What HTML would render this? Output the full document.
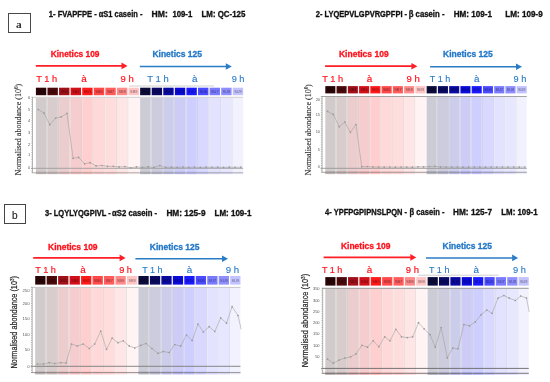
<!DOCTYPE html>
<html><head><meta charset="utf-8"><title>Kinetics figure</title>
<style>html,body{margin:0;padding:0;background:#fff;} svg{display:block;}</style></head>
<body><svg width="550" height="382" viewBox="0 0 550 382">
<rect width="550" height="382" fill="#fff"/>
<text x="48.80" y="17.00" font-family="'Liberation Sans', Arial, sans-serif" font-size="8.2" font-weight="bold" fill="#111" text-anchor="start" textLength="48.00" lengthAdjust="spacingAndGlyphs" stroke="#111" stroke-width="0.3">1- FVAPFPE -</text>
<text x="98.70" y="17.00" font-family="'Liberation Sans', Arial, sans-serif" font-size="8.2" font-weight="bold" fill="#111" text-anchor="start" textLength="43.70" lengthAdjust="spacingAndGlyphs" stroke="#111" stroke-width="0.3">αS1 casein -</text>
<text x="151.60" y="17.00" font-family="'Liberation Sans', Arial, sans-serif" font-size="8.2" font-weight="bold" fill="#111" text-anchor="start" textLength="16.20" lengthAdjust="spacingAndGlyphs" stroke="#111" stroke-width="0.3">HM:</text>
<text x="172.40" y="17.00" font-family="'Liberation Sans', Arial, sans-serif" font-size="8.2" font-weight="bold" fill="#111" text-anchor="start" textLength="19.90" lengthAdjust="spacingAndGlyphs" stroke="#111" stroke-width="0.3">109-1</text>
<text x="201.50" y="17.00" font-family="'Liberation Sans', Arial, sans-serif" font-size="8.2" font-weight="bold" fill="#111" text-anchor="start" textLength="43.80" lengthAdjust="spacingAndGlyphs" stroke="#111" stroke-width="0.3">LM: QC-125</text>
<text x="50.70" y="57.10" font-family="'Liberation Sans', Arial, sans-serif" font-size="8.6" font-weight="bold" fill="#ff121c" text-anchor="start" textLength="48.80" lengthAdjust="spacingAndGlyphs" stroke="#ff121c" stroke-width="0.3">Kinetics 109</text>
<text x="152.40" y="57.30" font-family="'Liberation Sans', Arial, sans-serif" font-size="8.6" font-weight="bold" fill="#2277c8" text-anchor="start" textLength="49.60" lengthAdjust="spacingAndGlyphs" stroke="#2277c8" stroke-width="0.3">Kinetics 125</text>
<line x1="35.80" y1="65.90" x2="122.00" y2="65.90" stroke="#ff1e26" stroke-width="1.8"/><polygon points="121.50,62.60 127.50,65.90 121.50,69.20" fill="#ff1e26"/>
<line x1="139.80" y1="66.50" x2="226.30" y2="66.50" stroke="#2a7cc6" stroke-width="1.5"/><polygon points="225.80,63.20 231.80,66.50 225.80,69.80" fill="#2a7cc6"/>
<text x="36.25" y="82.30" font-family="'Liberation Sans', Arial, sans-serif" font-size="9.9" font-weight="normal" fill="#ff121c" text-anchor="start" textLength="20.85" lengthAdjust="spacingAndGlyphs" stroke="#ff121c" stroke-width="0.2">T 1 h</text>
<text x="84.00" y="82.30" font-family="'Liberation Sans', Arial, sans-serif" font-size="9.9" font-weight="normal" fill="#ff121c" text-anchor="middle" stroke="#ff121c" stroke-width="0.2">à</text>
<text x="120.50" y="82.30" font-family="'Liberation Sans', Arial, sans-serif" font-size="9.9" font-weight="normal" fill="#ff121c" text-anchor="start" textLength="13.20" lengthAdjust="spacingAndGlyphs" stroke="#ff121c" stroke-width="0.2">9 h</text>
<text x="147.30" y="82.30" font-family="'Liberation Sans', Arial, sans-serif" font-size="9.9" font-weight="normal" fill="#2277c8" text-anchor="start" textLength="21.40" lengthAdjust="spacingAndGlyphs" stroke="#2277c8" stroke-width="0.1">T 1 h</text>
<text x="194.80" y="82.30" font-family="'Liberation Sans', Arial, sans-serif" font-size="9.9" font-weight="normal" fill="#2277c8" text-anchor="middle" stroke="#2277c8" stroke-width="0.1">à</text>
<text x="231.70" y="82.30" font-family="'Liberation Sans', Arial, sans-serif" font-size="9.9" font-weight="normal" fill="#2277c8" text-anchor="start" textLength="12.80" lengthAdjust="spacingAndGlyphs" stroke="#2277c8" stroke-width="0.1">9 h</text>
<line x1="129" y1="86" x2="214" y2="86" stroke="#c4c4c4" stroke-width="0.8"/>
<rect x="35.90" y="97.80" width="10.38" height="76.30" fill="#d2cbcb"/>
<rect x="35.90" y="171.50" width="10.38" height="2.60" fill="#bfb4b5"/>
<rect x="35.90" y="87.70" width="10.38" height="7.50" fill="#2a0508"/>
<text x="41.09" y="92.85" font-family="'Liberation Sans', Arial, sans-serif" font-size="3.9" font-weight="normal" fill="#000" text-anchor="middle" fill-opacity="0.5">SB1</text>
<rect x="46.28" y="97.80" width="1.2" height="76.30" fill="#d4cfcf"/>
<rect x="47.48" y="97.80" width="10.38" height="76.30" fill="#d9cccc"/>
<rect x="47.48" y="171.50" width="10.38" height="2.60" fill="#c9b6b6"/>
<rect x="47.48" y="87.70" width="10.38" height="7.50" fill="#4a0a0c"/>
<text x="52.67" y="92.85" font-family="'Liberation Sans', Arial, sans-serif" font-size="3.9" font-weight="normal" fill="#000" text-anchor="middle" fill-opacity="0.5">SB2</text>
<rect x="57.86" y="97.80" width="1.2" height="76.30" fill="#d8d0d0"/>
<rect x="59.06" y="97.80" width="10.38" height="76.30" fill="#ebcdce"/>
<rect x="59.06" y="171.50" width="10.38" height="2.60" fill="#e2b7ba"/>
<rect x="59.06" y="87.70" width="10.38" height="7.50" fill="#a01018"/>
<text x="64.25" y="92.85" font-family="'Liberation Sans', Arial, sans-serif" font-size="3.9" font-weight="normal" fill="#000" text-anchor="middle" fill-opacity="0.5">SB3</text>
<rect x="69.44" y="97.80" width="1.2" height="76.30" fill="#e2d0d1"/>
<rect x="70.64" y="97.80" width="10.38" height="76.30" fill="#f6cdcf"/>
<rect x="70.64" y="171.50" width="10.38" height="2.60" fill="#f2b7ba"/>
<rect x="70.64" y="87.70" width="10.38" height="7.50" fill="#d2101a"/>
<text x="75.83" y="92.85" font-family="'Liberation Sans', Arial, sans-serif" font-size="3.9" font-weight="normal" fill="#000" text-anchor="middle" fill-opacity="0.5">SB4</text>
<rect x="81.02" y="97.80" width="1.2" height="76.30" fill="#e8d0d1"/>
<rect x="82.22" y="97.80" width="10.38" height="76.30" fill="#ffcfcf"/>
<rect x="82.22" y="171.50" width="10.38" height="2.60" fill="#ffbaba"/>
<rect x="82.22" y="87.70" width="10.38" height="7.50" fill="#ff1a1a"/>
<text x="87.41" y="92.85" font-family="'Liberation Sans', Arial, sans-serif" font-size="3.9" font-weight="normal" fill="#000" text-anchor="middle" fill-opacity="0.5">SB5</text>
<rect x="92.60" y="97.80" width="1.2" height="76.30" fill="#edd1d1"/>
<rect x="93.80" y="97.80" width="10.38" height="76.30" fill="#ffd9d9"/>
<rect x="93.80" y="171.50" width="10.38" height="2.60" fill="#ffc8c8"/>
<rect x="93.80" y="87.70" width="10.38" height="7.50" fill="#ff4848"/>
<text x="98.99" y="92.85" font-family="'Liberation Sans', Arial, sans-serif" font-size="3.9" font-weight="normal" fill="#000" text-anchor="middle" fill-opacity="0.5">SB6</text>
<rect x="104.18" y="97.80" width="1.2" height="76.30" fill="#edd7d7"/>
<rect x="105.38" y="97.80" width="10.38" height="76.30" fill="#ffdddd"/>
<rect x="105.38" y="171.50" width="10.38" height="2.60" fill="#ffcece"/>
<rect x="105.38" y="87.70" width="10.38" height="7.50" fill="#ff5c5c"/>
<text x="110.57" y="92.85" font-family="'Liberation Sans', Arial, sans-serif" font-size="3.9" font-weight="normal" fill="#000" text-anchor="middle" fill-opacity="0.5">SB7</text>
<rect x="115.76" y="97.80" width="1.2" height="76.30" fill="#edd9d9"/>
<rect x="116.96" y="97.80" width="10.38" height="76.30" fill="#ffe6e6"/>
<rect x="116.96" y="171.50" width="10.38" height="2.60" fill="#ffdcdc"/>
<rect x="116.96" y="87.70" width="10.38" height="7.50" fill="#ff8a8a"/>
<text x="122.15" y="92.85" font-family="'Liberation Sans', Arial, sans-serif" font-size="3.9" font-weight="normal" fill="#000" text-anchor="middle" fill-opacity="0.5">SB8</text>
<rect x="127.34" y="97.80" width="1.2" height="76.30" fill="#eddede"/>
<rect x="128.54" y="97.80" width="10.38" height="76.30" fill="#fff3f3"/>
<rect x="128.54" y="171.50" width="10.38" height="2.60" fill="#ffeded"/>
<rect x="128.54" y="87.70" width="10.38" height="7.50" fill="#ffc4c4"/>
<text x="133.73" y="92.85" font-family="'Liberation Sans', Arial, sans-serif" font-size="3.9" font-weight="normal" fill="#000" text-anchor="middle" fill-opacity="0.5">SB9</text>
<rect x="138.92" y="97.80" width="1.2" height="76.30" fill="#fff3f3"/>
<rect x="140.12" y="97.80" width="10.38" height="76.30" fill="#ccccd6"/>
<rect x="140.12" y="171.50" width="10.38" height="2.60" fill="#b6b6c4"/>
<rect x="140.12" y="87.70" width="10.38" height="7.50" fill="#0c0c3a"/>
<text x="145.31" y="92.85" font-family="'Liberation Sans', Arial, sans-serif" font-size="3.9" font-weight="normal" fill="#000" text-anchor="middle" fill-opacity="0.5">SU1</text>
<rect x="150.50" y="97.80" width="1.2" height="76.30" fill="#d0d0d5"/>
<rect x="151.70" y="97.80" width="10.38" height="76.30" fill="#ccccde"/>
<rect x="151.70" y="171.50" width="10.38" height="2.60" fill="#b6b6d0"/>
<rect x="151.70" y="87.70" width="10.38" height="7.50" fill="#0a0a62"/>
<text x="156.89" y="92.85" font-family="'Liberation Sans', Arial, sans-serif" font-size="3.9" font-weight="normal" fill="#000" text-anchor="middle" fill-opacity="0.5">SU2</text>
<rect x="162.08" y="97.80" width="1.2" height="76.30" fill="#d0d0da"/>
<rect x="163.28" y="97.80" width="10.38" height="76.30" fill="#cccceb"/>
<rect x="163.28" y="171.50" width="10.38" height="2.60" fill="#b6b6e2"/>
<rect x="163.28" y="87.70" width="10.38" height="7.50" fill="#0a0aa0"/>
<text x="168.47" y="92.85" font-family="'Liberation Sans', Arial, sans-serif" font-size="3.9" font-weight="normal" fill="#000" text-anchor="middle" fill-opacity="0.5">SU3</text>
<rect x="173.66" y="97.80" width="1.2" height="76.30" fill="#d0d0e1"/>
<rect x="174.86" y="97.80" width="10.38" height="76.30" fill="#ccccf7"/>
<rect x="174.86" y="171.50" width="10.38" height="2.60" fill="#b6b6f3"/>
<rect x="174.86" y="87.70" width="10.38" height="7.50" fill="#0a0ad8"/>
<text x="180.05" y="92.85" font-family="'Liberation Sans', Arial, sans-serif" font-size="3.9" font-weight="normal" fill="#000" text-anchor="middle" fill-opacity="0.5">SU4</text>
<rect x="185.24" y="97.80" width="1.2" height="76.30" fill="#d0d0e7"/>
<rect x="186.44" y="97.80" width="10.38" height="76.30" fill="#cfcfff"/>
<rect x="186.44" y="171.50" width="10.38" height="2.60" fill="#babaff"/>
<rect x="186.44" y="87.70" width="10.38" height="7.50" fill="#1a1aff"/>
<text x="191.63" y="92.85" font-family="'Liberation Sans', Arial, sans-serif" font-size="3.9" font-weight="normal" fill="#000" text-anchor="middle" fill-opacity="0.5">SU5</text>
<rect x="196.82" y="97.80" width="1.2" height="76.30" fill="#d2d1ec"/>
<rect x="198.02" y="97.80" width="10.38" height="76.30" fill="#d9d9ff"/>
<rect x="198.02" y="171.50" width="10.38" height="2.60" fill="#c9c9ff"/>
<rect x="198.02" y="87.70" width="10.38" height="7.50" fill="#4a4aff"/>
<text x="203.21" y="92.85" font-family="'Liberation Sans', Arial, sans-serif" font-size="3.9" font-weight="normal" fill="#000" text-anchor="middle" fill-opacity="0.5">SU6</text>
<rect x="208.40" y="97.80" width="1.2" height="76.30" fill="#d8d7ec"/>
<rect x="209.60" y="97.80" width="10.38" height="76.30" fill="#e3e3ff"/>
<rect x="209.60" y="171.50" width="10.38" height="2.60" fill="#d7d7ff"/>
<rect x="209.60" y="87.70" width="10.38" height="7.50" fill="#7a7aff"/>
<text x="214.79" y="92.85" font-family="'Liberation Sans', Arial, sans-serif" font-size="3.9" font-weight="normal" fill="#000" text-anchor="middle" fill-opacity="0.5">SU7</text>
<rect x="219.98" y="97.80" width="1.2" height="76.30" fill="#dddcec"/>
<rect x="221.18" y="97.80" width="10.38" height="76.30" fill="#e7e7ff"/>
<rect x="221.18" y="171.50" width="10.38" height="2.60" fill="#ddddff"/>
<rect x="221.18" y="87.70" width="10.38" height="7.50" fill="#8e8eff"/>
<text x="226.37" y="92.85" font-family="'Liberation Sans', Arial, sans-serif" font-size="3.9" font-weight="normal" fill="#000" text-anchor="middle" fill-opacity="0.5">SU8</text>
<rect x="231.56" y="97.80" width="1.2" height="76.30" fill="#dfdeec"/>
<rect x="232.76" y="97.80" width="10.38" height="76.30" fill="#f2f2ff"/>
<rect x="232.76" y="171.50" width="10.38" height="2.60" fill="#ededff"/>
<rect x="232.76" y="87.70" width="10.38" height="7.50" fill="#c2c2ff"/>
<text x="237.95" y="92.85" font-family="'Liberation Sans', Arial, sans-serif" font-size="3.9" font-weight="normal" fill="#000" text-anchor="middle" fill-opacity="0.5">SU9</text>
<line x1="32.00" y1="97.30" x2="243.14" y2="97.30" stroke="#c8c8c8" stroke-width="0.9"/>
<line x1="31.00" y1="168.30" x2="243.14" y2="168.30" stroke="#9c9c9c" stroke-width="0.9"/>
<line x1="31.50" y1="172.80" x2="243.14" y2="172.80" stroke="#9a9a9a" stroke-width="0.8"/>
<line x1="32.50" y1="97.30" x2="32.50" y2="172.80" stroke="#9a9a9a" stroke-width="0.7"/>
<line x1="31.30" y1="97.30" x2="32.50" y2="97.30" stroke="#8a8a8a" stroke-width="0.6"/>
<line x1="31.30" y1="99.60" x2="32.50" y2="99.60" stroke="#8a8a8a" stroke-width="0.6"/>
<line x1="31.30" y1="101.90" x2="32.50" y2="101.90" stroke="#8a8a8a" stroke-width="0.6"/>
<line x1="31.30" y1="104.20" x2="32.50" y2="104.20" stroke="#8a8a8a" stroke-width="0.6"/>
<line x1="31.30" y1="106.50" x2="32.50" y2="106.50" stroke="#8a8a8a" stroke-width="0.6"/>
<line x1="31.30" y1="108.80" x2="32.50" y2="108.80" stroke="#8a8a8a" stroke-width="0.6"/>
<line x1="31.30" y1="111.10" x2="32.50" y2="111.10" stroke="#8a8a8a" stroke-width="0.6"/>
<line x1="31.30" y1="113.40" x2="32.50" y2="113.40" stroke="#8a8a8a" stroke-width="0.6"/>
<line x1="31.30" y1="115.70" x2="32.50" y2="115.70" stroke="#8a8a8a" stroke-width="0.6"/>
<line x1="31.30" y1="118.00" x2="32.50" y2="118.00" stroke="#8a8a8a" stroke-width="0.6"/>
<line x1="31.30" y1="120.30" x2="32.50" y2="120.30" stroke="#8a8a8a" stroke-width="0.6"/>
<line x1="31.30" y1="122.60" x2="32.50" y2="122.60" stroke="#8a8a8a" stroke-width="0.6"/>
<line x1="31.30" y1="124.90" x2="32.50" y2="124.90" stroke="#8a8a8a" stroke-width="0.6"/>
<line x1="31.30" y1="127.20" x2="32.50" y2="127.20" stroke="#8a8a8a" stroke-width="0.6"/>
<line x1="31.30" y1="129.50" x2="32.50" y2="129.50" stroke="#8a8a8a" stroke-width="0.6"/>
<line x1="31.30" y1="131.80" x2="32.50" y2="131.80" stroke="#8a8a8a" stroke-width="0.6"/>
<line x1="31.30" y1="134.10" x2="32.50" y2="134.10" stroke="#8a8a8a" stroke-width="0.6"/>
<line x1="31.30" y1="136.40" x2="32.50" y2="136.40" stroke="#8a8a8a" stroke-width="0.6"/>
<line x1="31.30" y1="138.70" x2="32.50" y2="138.70" stroke="#8a8a8a" stroke-width="0.6"/>
<line x1="31.30" y1="141.00" x2="32.50" y2="141.00" stroke="#8a8a8a" stroke-width="0.6"/>
<line x1="31.30" y1="143.30" x2="32.50" y2="143.30" stroke="#8a8a8a" stroke-width="0.6"/>
<line x1="31.30" y1="145.60" x2="32.50" y2="145.60" stroke="#8a8a8a" stroke-width="0.6"/>
<line x1="31.30" y1="147.90" x2="32.50" y2="147.90" stroke="#8a8a8a" stroke-width="0.6"/>
<line x1="31.30" y1="150.20" x2="32.50" y2="150.20" stroke="#8a8a8a" stroke-width="0.6"/>
<line x1="31.30" y1="152.50" x2="32.50" y2="152.50" stroke="#8a8a8a" stroke-width="0.6"/>
<line x1="31.30" y1="154.80" x2="32.50" y2="154.80" stroke="#8a8a8a" stroke-width="0.6"/>
<line x1="31.30" y1="157.10" x2="32.50" y2="157.10" stroke="#8a8a8a" stroke-width="0.6"/>
<line x1="31.30" y1="159.40" x2="32.50" y2="159.40" stroke="#8a8a8a" stroke-width="0.6"/>
<line x1="31.30" y1="161.70" x2="32.50" y2="161.70" stroke="#8a8a8a" stroke-width="0.6"/>
<line x1="31.30" y1="164.00" x2="32.50" y2="164.00" stroke="#8a8a8a" stroke-width="0.6"/>
<line x1="31.30" y1="166.30" x2="32.50" y2="166.30" stroke="#8a8a8a" stroke-width="0.6"/>
<line x1="31.30" y1="168.60" x2="32.50" y2="168.60" stroke="#8a8a8a" stroke-width="0.6"/>
<line x1="31.30" y1="170.90" x2="32.50" y2="170.90" stroke="#8a8a8a" stroke-width="0.6"/>
<text x="30.30" y="98.54" font-family="'Liberation Sans', Arial, sans-serif" font-size="4.0" font-weight="normal" fill="#555" text-anchor="end">6</text>
<text x="30.30" y="110.54" font-family="'Liberation Sans', Arial, sans-serif" font-size="4.0" font-weight="normal" fill="#555" text-anchor="end">5</text>
<text x="30.30" y="122.44" font-family="'Liberation Sans', Arial, sans-serif" font-size="4.0" font-weight="normal" fill="#555" text-anchor="end">4</text>
<text x="30.30" y="134.24" font-family="'Liberation Sans', Arial, sans-serif" font-size="4.0" font-weight="normal" fill="#555" text-anchor="end">3</text>
<text x="30.30" y="145.54" font-family="'Liberation Sans', Arial, sans-serif" font-size="4.0" font-weight="normal" fill="#555" text-anchor="end">2</text>
<text x="30.30" y="156.34" font-family="'Liberation Sans', Arial, sans-serif" font-size="4.0" font-weight="normal" fill="#555" text-anchor="end">1</text>
<text x="30.30" y="168.74" font-family="'Liberation Sans', Arial, sans-serif" font-size="4.0" font-weight="normal" fill="#555" text-anchor="end">0</text>
<text transform="translate(20.90,175.60) rotate(-90)" x="0" y="0" font-family="'Liberation Serif', 'Times New Roman', serif" font-size="8.2" fill="#2a2a2a" stroke="#2a2a2a" stroke-width="0.12" textLength="91.70" lengthAdjust="spacingAndGlyphs">Normalised abondance (10<tspan dy="-3.12" font-size="5.08">6</tspan><tspan dy="3.12">)</tspan></text>
<polyline points="38.20,109.50 44.10,113.20 49.80,124.70 55.70,118.00 61.20,116.90 67.00,113.40 73.10,158.30 78.60,157.40 84.60,163.80 90.10,162.70 96.10,165.90 101.90,165.50 107.50,166.30 113.30,166.30 119.10,166.90 124.90,166.60 130.70,167.80 136.50,166.90 142.40,167.40 148.20,166.90 154.00,167.40 159.80,165.50 165.60,167.40 171.40,167.20 177.20,167.40 183.00,167.10 188.80,167.30 194.50,167.20 200.30,167.40 206.10,167.20 211.90,167.30 217.70,167.20 223.50,167.40 229.30,167.20 235.10,167.30 240.90,167.20" fill="none" stroke="#9c9c9c" stroke-width="0.55"/>
<circle cx="38.20" cy="109.50" r="0.85" fill="#9a9a9a" stroke="none"/>
<circle cx="44.10" cy="113.20" r="0.85" fill="#9a9a9a" stroke="none"/>
<circle cx="49.80" cy="124.70" r="0.85" fill="#9a9a9a" stroke="none"/>
<circle cx="55.70" cy="118.00" r="0.85" fill="#9a9a9a" stroke="none"/>
<circle cx="61.20" cy="116.90" r="0.85" fill="#9a9a9a" stroke="none"/>
<circle cx="67.00" cy="113.40" r="0.85" fill="#9a9a9a" stroke="none"/>
<circle cx="73.10" cy="158.30" r="0.85" fill="#9a9a9a" stroke="none"/>
<circle cx="78.60" cy="157.40" r="0.85" fill="#9a9a9a" stroke="none"/>
<circle cx="84.60" cy="163.80" r="0.85" fill="#9a9a9a" stroke="none"/>
<circle cx="90.10" cy="162.70" r="0.85" fill="#9a9a9a" stroke="none"/>
<circle cx="96.10" cy="165.90" r="0.85" fill="#9a9a9a" stroke="none"/>
<circle cx="101.90" cy="165.50" r="0.85" fill="#9a9a9a" stroke="none"/>
<circle cx="107.50" cy="166.30" r="0.85" fill="#9a9a9a" stroke="none"/>
<circle cx="113.30" cy="166.30" r="0.85" fill="#9a9a9a" stroke="none"/>
<circle cx="119.10" cy="166.90" r="0.85" fill="#9a9a9a" stroke="none"/>
<circle cx="124.90" cy="166.60" r="0.85" fill="#9a9a9a" stroke="none"/>
<circle cx="130.70" cy="167.80" r="0.85" fill="#9a9a9a" stroke="none"/>
<circle cx="136.50" cy="166.90" r="0.85" fill="#9a9a9a" stroke="none"/>
<circle cx="142.40" cy="167.40" r="0.85" fill="#9a9a9a" stroke="none"/>
<circle cx="148.20" cy="166.90" r="0.85" fill="#9a9a9a" stroke="none"/>
<circle cx="154.00" cy="167.40" r="0.85" fill="#9a9a9a" stroke="none"/>
<circle cx="159.80" cy="165.50" r="0.85" fill="#9a9a9a" stroke="none"/>
<circle cx="165.60" cy="167.40" r="0.85" fill="#9a9a9a" stroke="none"/>
<circle cx="171.40" cy="167.20" r="0.85" fill="#9a9a9a" stroke="none"/>
<circle cx="177.20" cy="167.40" r="0.85" fill="#9a9a9a" stroke="none"/>
<circle cx="183.00" cy="167.10" r="0.85" fill="#9a9a9a" stroke="none"/>
<circle cx="188.80" cy="167.30" r="0.85" fill="#9a9a9a" stroke="none"/>
<circle cx="194.50" cy="167.20" r="0.85" fill="#9a9a9a" stroke="none"/>
<circle cx="200.30" cy="167.40" r="0.85" fill="#9a9a9a" stroke="none"/>
<circle cx="206.10" cy="167.20" r="0.85" fill="#9a9a9a" stroke="none"/>
<circle cx="211.90" cy="167.30" r="0.85" fill="#9a9a9a" stroke="none"/>
<circle cx="217.70" cy="167.20" r="0.85" fill="#9a9a9a" stroke="none"/>
<circle cx="223.50" cy="167.40" r="0.85" fill="#9a9a9a" stroke="none"/>
<circle cx="229.30" cy="167.20" r="0.85" fill="#9a9a9a" stroke="none"/>
<circle cx="235.10" cy="167.30" r="0.85" fill="#9a9a9a" stroke="none"/>
<circle cx="240.90" cy="167.20" r="0.85" fill="#9a9a9a" stroke="none"/>
<text x="315.80" y="16.90" font-family="'Liberation Sans', Arial, sans-serif" font-size="8.2" font-weight="bold" fill="#111" text-anchor="start" textLength="91.30" lengthAdjust="spacingAndGlyphs" stroke="#111" stroke-width="0.3">2- LYQEPVLGPVRGPFPI -</text>
<text x="408.70" y="16.90" font-family="'Liberation Sans', Arial, sans-serif" font-size="8.2" font-weight="bold" fill="#111" text-anchor="start" textLength="35.80" lengthAdjust="spacingAndGlyphs" stroke="#111" stroke-width="0.3">β casein -</text>
<text x="453.70" y="16.90" font-family="'Liberation Sans', Arial, sans-serif" font-size="8.2" font-weight="bold" fill="#111" text-anchor="start" textLength="38.40" lengthAdjust="spacingAndGlyphs" stroke="#111" stroke-width="0.3">HM: 109-1</text>
<text x="505.30" y="16.90" font-family="'Liberation Sans', Arial, sans-serif" font-size="8.2" font-weight="bold" fill="#111" text-anchor="start" textLength="37.40" lengthAdjust="spacingAndGlyphs" stroke="#111" stroke-width="0.3">LM: 109-9</text>
<text x="338.90" y="57.10" font-family="'Liberation Sans', Arial, sans-serif" font-size="8.6" font-weight="bold" fill="#ff121c" text-anchor="start" textLength="49.80" lengthAdjust="spacingAndGlyphs" stroke="#ff121c" stroke-width="0.3">Kinetics 109</text>
<text x="443.00" y="57.40" font-family="'Liberation Sans', Arial, sans-serif" font-size="8.6" font-weight="bold" fill="#2277c8" text-anchor="start" textLength="49.70" lengthAdjust="spacingAndGlyphs" stroke="#2277c8" stroke-width="0.3">Kinetics 125</text>
<line x1="325.10" y1="66.20" x2="411.90" y2="66.20" stroke="#ff1e26" stroke-width="1.8"/><polygon points="411.40,62.90 417.40,66.20 411.40,69.50" fill="#ff1e26"/>
<line x1="430.10" y1="66.70" x2="516.50" y2="66.70" stroke="#2a7cc6" stroke-width="1.5"/><polygon points="516.00,63.40 522.00,66.70 516.00,70.00" fill="#2a7cc6"/>
<text x="322.30" y="81.90" font-family="'Liberation Sans', Arial, sans-serif" font-size="9.9" font-weight="normal" fill="#ff121c" text-anchor="start" textLength="20.80" lengthAdjust="spacingAndGlyphs" stroke="#ff121c" stroke-width="0.2">T 1 h</text>
<text x="369.40" y="81.90" font-family="'Liberation Sans', Arial, sans-serif" font-size="9.9" font-weight="normal" fill="#ff121c" text-anchor="middle" stroke="#ff121c" stroke-width="0.2">à</text>
<text x="406.50" y="81.90" font-family="'Liberation Sans', Arial, sans-serif" font-size="9.9" font-weight="normal" fill="#ff121c" text-anchor="start" textLength="13.30" lengthAdjust="spacingAndGlyphs" stroke="#ff121c" stroke-width="0.2">9 h</text>
<text x="429.80" y="81.90" font-family="'Liberation Sans', Arial, sans-serif" font-size="9.9" font-weight="normal" fill="#2277c8" text-anchor="start" textLength="20.40" lengthAdjust="spacingAndGlyphs" stroke="#2277c8" stroke-width="0.1">T 1 h</text>
<text x="476.70" y="81.90" font-family="'Liberation Sans', Arial, sans-serif" font-size="9.9" font-weight="normal" fill="#2277c8" text-anchor="middle" stroke="#2277c8" stroke-width="0.1">à</text>
<text x="513.50" y="81.90" font-family="'Liberation Sans', Arial, sans-serif" font-size="9.9" font-weight="normal" fill="#2277c8" text-anchor="start" textLength="12.80" lengthAdjust="spacingAndGlyphs" stroke="#2277c8" stroke-width="0.1">9 h</text>
<rect x="325.30" y="97.00" width="10.06" height="77.10" fill="#d2cbcb"/>
<rect x="325.30" y="171.00" width="10.06" height="3.10" fill="#bfb4b5"/>
<rect x="325.30" y="86.10" width="10.06" height="7.30" fill="#2a0508"/>
<text x="330.33" y="91.15" font-family="'Liberation Sans', Arial, sans-serif" font-size="3.9" font-weight="normal" fill="#000" text-anchor="middle" fill-opacity="0.5">SB1</text>
<rect x="335.36" y="97.00" width="1.2" height="77.10" fill="#d4cfcf"/>
<rect x="336.56" y="97.00" width="10.06" height="77.10" fill="#d9cccc"/>
<rect x="336.56" y="171.00" width="10.06" height="3.10" fill="#c9b6b6"/>
<rect x="336.56" y="86.10" width="10.06" height="7.30" fill="#4a0a0c"/>
<text x="341.59" y="91.15" font-family="'Liberation Sans', Arial, sans-serif" font-size="3.9" font-weight="normal" fill="#000" text-anchor="middle" fill-opacity="0.5">SB2</text>
<rect x="346.62" y="97.00" width="1.2" height="77.10" fill="#d8d0d0"/>
<rect x="347.82" y="97.00" width="10.06" height="77.10" fill="#ebcdce"/>
<rect x="347.82" y="171.00" width="10.06" height="3.10" fill="#e2b7ba"/>
<rect x="347.82" y="86.10" width="10.06" height="7.30" fill="#a01018"/>
<text x="352.85" y="91.15" font-family="'Liberation Sans', Arial, sans-serif" font-size="3.9" font-weight="normal" fill="#000" text-anchor="middle" fill-opacity="0.5">SB3</text>
<rect x="357.88" y="97.00" width="1.2" height="77.10" fill="#e2d0d1"/>
<rect x="359.08" y="97.00" width="10.06" height="77.10" fill="#f6cdcf"/>
<rect x="359.08" y="171.00" width="10.06" height="3.10" fill="#f2b7ba"/>
<rect x="359.08" y="86.10" width="10.06" height="7.30" fill="#d2101a"/>
<text x="364.11" y="91.15" font-family="'Liberation Sans', Arial, sans-serif" font-size="3.9" font-weight="normal" fill="#000" text-anchor="middle" fill-opacity="0.5">SB4</text>
<rect x="369.14" y="97.00" width="1.2" height="77.10" fill="#e8d0d1"/>
<rect x="370.34" y="97.00" width="10.06" height="77.10" fill="#ffcfcf"/>
<rect x="370.34" y="171.00" width="10.06" height="3.10" fill="#ffbaba"/>
<rect x="370.34" y="86.10" width="10.06" height="7.30" fill="#ff1a1a"/>
<text x="375.37" y="91.15" font-family="'Liberation Sans', Arial, sans-serif" font-size="3.9" font-weight="normal" fill="#000" text-anchor="middle" fill-opacity="0.5">SB5</text>
<rect x="380.40" y="97.00" width="1.2" height="77.10" fill="#edd1d1"/>
<rect x="381.60" y="97.00" width="10.06" height="77.10" fill="#ffd9d9"/>
<rect x="381.60" y="171.00" width="10.06" height="3.10" fill="#ffc8c8"/>
<rect x="381.60" y="86.10" width="10.06" height="7.30" fill="#ff4848"/>
<text x="386.63" y="91.15" font-family="'Liberation Sans', Arial, sans-serif" font-size="3.9" font-weight="normal" fill="#000" text-anchor="middle" fill-opacity="0.5">SB6</text>
<rect x="391.66" y="97.00" width="1.2" height="77.10" fill="#edd7d7"/>
<rect x="392.86" y="97.00" width="10.06" height="77.10" fill="#ffdddd"/>
<rect x="392.86" y="171.00" width="10.06" height="3.10" fill="#ffcece"/>
<rect x="392.86" y="86.10" width="10.06" height="7.30" fill="#ff5c5c"/>
<text x="397.89" y="91.15" font-family="'Liberation Sans', Arial, sans-serif" font-size="3.9" font-weight="normal" fill="#000" text-anchor="middle" fill-opacity="0.5">SB7</text>
<rect x="402.92" y="97.00" width="1.2" height="77.10" fill="#edd9d9"/>
<rect x="404.12" y="97.00" width="10.06" height="77.10" fill="#ffe6e6"/>
<rect x="404.12" y="171.00" width="10.06" height="3.10" fill="#ffdcdc"/>
<rect x="404.12" y="86.10" width="10.06" height="7.30" fill="#ff8a8a"/>
<text x="409.15" y="91.15" font-family="'Liberation Sans', Arial, sans-serif" font-size="3.9" font-weight="normal" fill="#000" text-anchor="middle" fill-opacity="0.5">SB8</text>
<rect x="414.18" y="97.00" width="1.2" height="77.10" fill="#eddede"/>
<rect x="415.38" y="97.00" width="10.06" height="77.10" fill="#fff3f3"/>
<rect x="415.38" y="171.00" width="10.06" height="3.10" fill="#ffeded"/>
<rect x="415.38" y="86.10" width="10.06" height="7.30" fill="#ffc4c4"/>
<text x="420.41" y="91.15" font-family="'Liberation Sans', Arial, sans-serif" font-size="3.9" font-weight="normal" fill="#000" text-anchor="middle" fill-opacity="0.5">SB9</text>
<rect x="425.44" y="97.00" width="1.2" height="77.10" fill="#fff3f3"/>
<rect x="426.64" y="97.00" width="10.06" height="77.10" fill="#ccccd6"/>
<rect x="426.64" y="171.00" width="10.06" height="3.10" fill="#b6b6c4"/>
<rect x="426.64" y="86.10" width="10.06" height="7.30" fill="#0c0c3a"/>
<text x="431.67" y="91.15" font-family="'Liberation Sans', Arial, sans-serif" font-size="3.9" font-weight="normal" fill="#000" text-anchor="middle" fill-opacity="0.5">SU1</text>
<rect x="436.70" y="97.00" width="1.2" height="77.10" fill="#d0d0d5"/>
<rect x="437.90" y="97.00" width="10.06" height="77.10" fill="#ccccde"/>
<rect x="437.90" y="171.00" width="10.06" height="3.10" fill="#b6b6d0"/>
<rect x="437.90" y="86.10" width="10.06" height="7.30" fill="#0a0a62"/>
<text x="442.93" y="91.15" font-family="'Liberation Sans', Arial, sans-serif" font-size="3.9" font-weight="normal" fill="#000" text-anchor="middle" fill-opacity="0.5">SU2</text>
<rect x="447.96" y="97.00" width="1.2" height="77.10" fill="#d0d0da"/>
<rect x="449.16" y="97.00" width="10.06" height="77.10" fill="#cccceb"/>
<rect x="449.16" y="171.00" width="10.06" height="3.10" fill="#b6b6e2"/>
<rect x="449.16" y="86.10" width="10.06" height="7.30" fill="#0a0aa0"/>
<text x="454.19" y="91.15" font-family="'Liberation Sans', Arial, sans-serif" font-size="3.9" font-weight="normal" fill="#000" text-anchor="middle" fill-opacity="0.5">SU3</text>
<rect x="459.22" y="97.00" width="1.2" height="77.10" fill="#d0d0e1"/>
<rect x="460.42" y="97.00" width="10.06" height="77.10" fill="#ccccf7"/>
<rect x="460.42" y="171.00" width="10.06" height="3.10" fill="#b6b6f3"/>
<rect x="460.42" y="86.10" width="10.06" height="7.30" fill="#0a0ad8"/>
<text x="465.45" y="91.15" font-family="'Liberation Sans', Arial, sans-serif" font-size="3.9" font-weight="normal" fill="#000" text-anchor="middle" fill-opacity="0.5">SU4</text>
<rect x="470.48" y="97.00" width="1.2" height="77.10" fill="#d0d0e7"/>
<rect x="471.68" y="97.00" width="10.06" height="77.10" fill="#cfcfff"/>
<rect x="471.68" y="171.00" width="10.06" height="3.10" fill="#babaff"/>
<rect x="471.68" y="86.10" width="10.06" height="7.30" fill="#1a1aff"/>
<text x="476.71" y="91.15" font-family="'Liberation Sans', Arial, sans-serif" font-size="3.9" font-weight="normal" fill="#000" text-anchor="middle" fill-opacity="0.5">SU5</text>
<rect x="481.74" y="97.00" width="1.2" height="77.10" fill="#d2d1ec"/>
<rect x="482.94" y="97.00" width="10.06" height="77.10" fill="#d9d9ff"/>
<rect x="482.94" y="171.00" width="10.06" height="3.10" fill="#c9c9ff"/>
<rect x="482.94" y="86.10" width="10.06" height="7.30" fill="#4a4aff"/>
<text x="487.97" y="91.15" font-family="'Liberation Sans', Arial, sans-serif" font-size="3.9" font-weight="normal" fill="#000" text-anchor="middle" fill-opacity="0.5">SU6</text>
<rect x="493.00" y="97.00" width="1.2" height="77.10" fill="#d8d7ec"/>
<rect x="494.20" y="97.00" width="10.06" height="77.10" fill="#e3e3ff"/>
<rect x="494.20" y="171.00" width="10.06" height="3.10" fill="#d7d7ff"/>
<rect x="494.20" y="86.10" width="10.06" height="7.30" fill="#7a7aff"/>
<text x="499.23" y="91.15" font-family="'Liberation Sans', Arial, sans-serif" font-size="3.9" font-weight="normal" fill="#000" text-anchor="middle" fill-opacity="0.5">SU7</text>
<rect x="504.26" y="97.00" width="1.2" height="77.10" fill="#dddcec"/>
<rect x="505.46" y="97.00" width="10.06" height="77.10" fill="#e7e7ff"/>
<rect x="505.46" y="171.00" width="10.06" height="3.10" fill="#ddddff"/>
<rect x="505.46" y="86.10" width="10.06" height="7.30" fill="#8e8eff"/>
<text x="510.49" y="91.15" font-family="'Liberation Sans', Arial, sans-serif" font-size="3.9" font-weight="normal" fill="#000" text-anchor="middle" fill-opacity="0.5">SU8</text>
<rect x="515.52" y="97.00" width="1.2" height="77.10" fill="#dfdeec"/>
<rect x="516.72" y="97.00" width="10.06" height="77.10" fill="#f2f2ff"/>
<rect x="516.72" y="171.00" width="10.06" height="3.10" fill="#ededff"/>
<rect x="516.72" y="86.10" width="10.06" height="7.30" fill="#c2c2ff"/>
<text x="521.75" y="91.15" font-family="'Liberation Sans', Arial, sans-serif" font-size="3.9" font-weight="normal" fill="#000" text-anchor="middle" fill-opacity="0.5">SU9</text>
<line x1="321.60" y1="96.50" x2="526.78" y2="96.50" stroke="#9a9a9a" stroke-width="0.9"/>
<line x1="320.60" y1="168.30" x2="526.78" y2="168.30" stroke="#959595" stroke-width="0.9"/>
<line x1="321.10" y1="172.30" x2="526.78" y2="172.30" stroke="#8a8a8a" stroke-width="0.8"/>
<line x1="322.10" y1="96.50" x2="322.10" y2="172.30" stroke="#9a9a9a" stroke-width="0.7"/>
<line x1="320.90" y1="96.50" x2="322.10" y2="96.50" stroke="#8a8a8a" stroke-width="0.6"/>
<line x1="320.90" y1="98.80" x2="322.10" y2="98.80" stroke="#8a8a8a" stroke-width="0.6"/>
<line x1="320.90" y1="101.10" x2="322.10" y2="101.10" stroke="#8a8a8a" stroke-width="0.6"/>
<line x1="320.90" y1="103.40" x2="322.10" y2="103.40" stroke="#8a8a8a" stroke-width="0.6"/>
<line x1="320.90" y1="105.70" x2="322.10" y2="105.70" stroke="#8a8a8a" stroke-width="0.6"/>
<line x1="320.90" y1="108.00" x2="322.10" y2="108.00" stroke="#8a8a8a" stroke-width="0.6"/>
<line x1="320.90" y1="110.30" x2="322.10" y2="110.30" stroke="#8a8a8a" stroke-width="0.6"/>
<line x1="320.90" y1="112.60" x2="322.10" y2="112.60" stroke="#8a8a8a" stroke-width="0.6"/>
<line x1="320.90" y1="114.90" x2="322.10" y2="114.90" stroke="#8a8a8a" stroke-width="0.6"/>
<line x1="320.90" y1="117.20" x2="322.10" y2="117.20" stroke="#8a8a8a" stroke-width="0.6"/>
<line x1="320.90" y1="119.50" x2="322.10" y2="119.50" stroke="#8a8a8a" stroke-width="0.6"/>
<line x1="320.90" y1="121.80" x2="322.10" y2="121.80" stroke="#8a8a8a" stroke-width="0.6"/>
<line x1="320.90" y1="124.10" x2="322.10" y2="124.10" stroke="#8a8a8a" stroke-width="0.6"/>
<line x1="320.90" y1="126.40" x2="322.10" y2="126.40" stroke="#8a8a8a" stroke-width="0.6"/>
<line x1="320.90" y1="128.70" x2="322.10" y2="128.70" stroke="#8a8a8a" stroke-width="0.6"/>
<line x1="320.90" y1="131.00" x2="322.10" y2="131.00" stroke="#8a8a8a" stroke-width="0.6"/>
<line x1="320.90" y1="133.30" x2="322.10" y2="133.30" stroke="#8a8a8a" stroke-width="0.6"/>
<line x1="320.90" y1="135.60" x2="322.10" y2="135.60" stroke="#8a8a8a" stroke-width="0.6"/>
<line x1="320.90" y1="137.90" x2="322.10" y2="137.90" stroke="#8a8a8a" stroke-width="0.6"/>
<line x1="320.90" y1="140.20" x2="322.10" y2="140.20" stroke="#8a8a8a" stroke-width="0.6"/>
<line x1="320.90" y1="142.50" x2="322.10" y2="142.50" stroke="#8a8a8a" stroke-width="0.6"/>
<line x1="320.90" y1="144.80" x2="322.10" y2="144.80" stroke="#8a8a8a" stroke-width="0.6"/>
<line x1="320.90" y1="147.10" x2="322.10" y2="147.10" stroke="#8a8a8a" stroke-width="0.6"/>
<line x1="320.90" y1="149.40" x2="322.10" y2="149.40" stroke="#8a8a8a" stroke-width="0.6"/>
<line x1="320.90" y1="151.70" x2="322.10" y2="151.70" stroke="#8a8a8a" stroke-width="0.6"/>
<line x1="320.90" y1="154.00" x2="322.10" y2="154.00" stroke="#8a8a8a" stroke-width="0.6"/>
<line x1="320.90" y1="156.30" x2="322.10" y2="156.30" stroke="#8a8a8a" stroke-width="0.6"/>
<line x1="320.90" y1="158.60" x2="322.10" y2="158.60" stroke="#8a8a8a" stroke-width="0.6"/>
<line x1="320.90" y1="160.90" x2="322.10" y2="160.90" stroke="#8a8a8a" stroke-width="0.6"/>
<line x1="320.90" y1="163.20" x2="322.10" y2="163.20" stroke="#8a8a8a" stroke-width="0.6"/>
<line x1="320.90" y1="165.50" x2="322.10" y2="165.50" stroke="#8a8a8a" stroke-width="0.6"/>
<line x1="320.90" y1="167.80" x2="322.10" y2="167.80" stroke="#8a8a8a" stroke-width="0.6"/>
<line x1="320.90" y1="170.10" x2="322.10" y2="170.10" stroke="#8a8a8a" stroke-width="0.6"/>
<text x="320.00" y="101.40" font-family="'Liberation Sans', Arial, sans-serif" font-size="3.9" font-weight="normal" fill="#555" text-anchor="end">20</text>
<text x="320.00" y="116.00" font-family="'Liberation Sans', Arial, sans-serif" font-size="3.9" font-weight="normal" fill="#555" text-anchor="end">15</text>
<text x="320.00" y="133.40" font-family="'Liberation Sans', Arial, sans-serif" font-size="3.9" font-weight="normal" fill="#555" text-anchor="end">10</text>
<text x="320.00" y="151.10" font-family="'Liberation Sans', Arial, sans-serif" font-size="3.9" font-weight="normal" fill="#555" text-anchor="end">5</text>
<text x="320.00" y="168.40" font-family="'Liberation Sans', Arial, sans-serif" font-size="3.9" font-weight="normal" fill="#555" text-anchor="end">0</text>
<text transform="translate(310.90,175.60) rotate(-90)" x="0" y="0" font-family="'Liberation Serif', 'Times New Roman', serif" font-size="8.2" fill="#2a2a2a" stroke="#2a2a2a" stroke-width="0.12" textLength="91.40" lengthAdjust="spacingAndGlyphs">Normalised abondance (10<tspan dy="-3.12" font-size="5.08">6</tspan><tspan dy="3.12">)</tspan></text>
<polyline points="327.50,111.40 333.30,114.40 339.20,126.70 344.80,122.10 350.40,132.30 356.00,124.50 361.70,166.70 367.30,166.50 372.90,166.90 378.60,167.00 384.20,167.10 389.80,167.00 395.40,167.20 401.10,167.00 406.70,167.10 412.30,167.20 418.00,166.80 423.60,166.90 429.20,166.50 434.90,166.30 440.50,166.90 446.10,167.00 451.70,167.10 457.40,167.00 463.00,167.20 468.60,167.10 474.30,167.00 479.90,167.10 485.50,167.20 491.20,167.00 496.80,167.10 502.40,167.00 508.00,167.10 513.70,167.00 519.30,167.10 524.90,167.00" fill="none" stroke="#9c9c9c" stroke-width="0.55"/>
<circle cx="327.50" cy="111.40" r="0.85" fill="#9a9a9a" stroke="none"/>
<circle cx="333.30" cy="114.40" r="0.85" fill="#9a9a9a" stroke="none"/>
<circle cx="339.20" cy="126.70" r="0.85" fill="#9a9a9a" stroke="none"/>
<circle cx="344.80" cy="122.10" r="0.85" fill="#9a9a9a" stroke="none"/>
<circle cx="350.40" cy="132.30" r="0.85" fill="#9a9a9a" stroke="none"/>
<circle cx="356.00" cy="124.50" r="0.85" fill="#9a9a9a" stroke="none"/>
<circle cx="361.70" cy="166.70" r="0.85" fill="#9a9a9a" stroke="none"/>
<circle cx="367.30" cy="166.50" r="0.85" fill="#9a9a9a" stroke="none"/>
<circle cx="372.90" cy="166.90" r="0.85" fill="#9a9a9a" stroke="none"/>
<circle cx="378.60" cy="167.00" r="0.85" fill="#9a9a9a" stroke="none"/>
<circle cx="384.20" cy="167.10" r="0.85" fill="#9a9a9a" stroke="none"/>
<circle cx="389.80" cy="167.00" r="0.85" fill="#9a9a9a" stroke="none"/>
<circle cx="395.40" cy="167.20" r="0.85" fill="#9a9a9a" stroke="none"/>
<circle cx="401.10" cy="167.00" r="0.85" fill="#9a9a9a" stroke="none"/>
<circle cx="406.70" cy="167.10" r="0.85" fill="#9a9a9a" stroke="none"/>
<circle cx="412.30" cy="167.20" r="0.85" fill="#9a9a9a" stroke="none"/>
<circle cx="418.00" cy="166.80" r="0.85" fill="#9a9a9a" stroke="none"/>
<circle cx="423.60" cy="166.90" r="0.85" fill="#9a9a9a" stroke="none"/>
<circle cx="429.20" cy="166.50" r="0.85" fill="#9a9a9a" stroke="none"/>
<circle cx="434.90" cy="166.30" r="0.85" fill="#9a9a9a" stroke="none"/>
<circle cx="440.50" cy="166.90" r="0.85" fill="#9a9a9a" stroke="none"/>
<circle cx="446.10" cy="167.00" r="0.85" fill="#9a9a9a" stroke="none"/>
<circle cx="451.70" cy="167.10" r="0.85" fill="#9a9a9a" stroke="none"/>
<circle cx="457.40" cy="167.00" r="0.85" fill="#9a9a9a" stroke="none"/>
<circle cx="463.00" cy="167.20" r="0.85" fill="#9a9a9a" stroke="none"/>
<circle cx="468.60" cy="167.10" r="0.85" fill="#9a9a9a" stroke="none"/>
<circle cx="474.30" cy="167.00" r="0.85" fill="#9a9a9a" stroke="none"/>
<circle cx="479.90" cy="167.10" r="0.85" fill="#9a9a9a" stroke="none"/>
<circle cx="485.50" cy="167.20" r="0.85" fill="#9a9a9a" stroke="none"/>
<circle cx="491.20" cy="167.00" r="0.85" fill="#9a9a9a" stroke="none"/>
<circle cx="496.80" cy="167.10" r="0.85" fill="#9a9a9a" stroke="none"/>
<circle cx="502.40" cy="167.00" r="0.85" fill="#9a9a9a" stroke="none"/>
<circle cx="508.00" cy="167.10" r="0.85" fill="#9a9a9a" stroke="none"/>
<circle cx="513.70" cy="167.00" r="0.85" fill="#9a9a9a" stroke="none"/>
<circle cx="519.30" cy="167.10" r="0.85" fill="#9a9a9a" stroke="none"/>
<circle cx="524.90" cy="167.00" r="0.85" fill="#9a9a9a" stroke="none"/>
<text x="45.00" y="215.60" font-family="'Liberation Sans', Arial, sans-serif" font-size="8.2" font-weight="bold" fill="#111" text-anchor="start" textLength="65.80" lengthAdjust="spacingAndGlyphs" stroke="#111" stroke-width="0.3">3- LQYLYQGPIVL -</text>
<text x="112.10" y="215.60" font-family="'Liberation Sans', Arial, sans-serif" font-size="8.2" font-weight="bold" fill="#111" text-anchor="start" textLength="45.10" lengthAdjust="spacingAndGlyphs" stroke="#111" stroke-width="0.3">αS2 casein -</text>
<text x="166.40" y="215.60" font-family="'Liberation Sans', Arial, sans-serif" font-size="8.2" font-weight="bold" fill="#111" text-anchor="start" textLength="39.10" lengthAdjust="spacingAndGlyphs" stroke="#111" stroke-width="0.3">HM: 125-9</text>
<text x="214.50" y="215.60" font-family="'Liberation Sans', Arial, sans-serif" font-size="8.2" font-weight="bold" fill="#111" text-anchor="start" textLength="36.90" lengthAdjust="spacingAndGlyphs" stroke="#111" stroke-width="0.3">LM: 109-1</text>
<text x="48.00" y="249.80" font-family="'Liberation Sans', Arial, sans-serif" font-size="8.6" font-weight="bold" fill="#ff121c" text-anchor="start" textLength="49.60" lengthAdjust="spacingAndGlyphs" stroke="#ff121c" stroke-width="0.3">Kinetics 109</text>
<text x="149.80" y="249.80" font-family="'Liberation Sans', Arial, sans-serif" font-size="8.6" font-weight="bold" fill="#2277c8" text-anchor="start" textLength="49.70" lengthAdjust="spacingAndGlyphs" stroke="#2277c8" stroke-width="0.3">Kinetics 125</text>
<line x1="33.20" y1="257.90" x2="120.10" y2="257.90" stroke="#ff1e26" stroke-width="1.8"/><polygon points="119.60,254.60 125.60,257.90 119.60,261.20" fill="#ff1e26"/>
<line x1="135.40" y1="258.70" x2="222.50" y2="258.70" stroke="#2a7cc6" stroke-width="1.5"/><polygon points="222.00,255.40 228.00,258.70 222.00,262.00" fill="#2a7cc6"/>
<text x="35.20" y="272.90" font-family="'Liberation Sans', Arial, sans-serif" font-size="9.9" font-weight="normal" fill="#ff121c" text-anchor="start" textLength="20.70" lengthAdjust="spacingAndGlyphs" stroke="#ff121c" stroke-width="0.2">T 1 h</text>
<text x="83.00" y="272.90" font-family="'Liberation Sans', Arial, sans-serif" font-size="9.9" font-weight="normal" fill="#ff121c" text-anchor="middle" stroke="#ff121c" stroke-width="0.2">à</text>
<text x="119.20" y="272.90" font-family="'Liberation Sans', Arial, sans-serif" font-size="9.9" font-weight="normal" fill="#ff121c" text-anchor="start" textLength="12.80" lengthAdjust="spacingAndGlyphs" stroke="#ff121c" stroke-width="0.2">9 h</text>
<text x="142.20" y="272.90" font-family="'Liberation Sans', Arial, sans-serif" font-size="9.9" font-weight="normal" fill="#2277c8" text-anchor="start" textLength="20.40" lengthAdjust="spacingAndGlyphs" stroke="#2277c8" stroke-width="0.1">T 1 h</text>
<text x="189.50" y="272.90" font-family="'Liberation Sans', Arial, sans-serif" font-size="9.9" font-weight="normal" fill="#2277c8" text-anchor="middle" stroke="#2277c8" stroke-width="0.1">à</text>
<text x="225.70" y="272.90" font-family="'Liberation Sans', Arial, sans-serif" font-size="9.9" font-weight="normal" fill="#2277c8" text-anchor="start" textLength="13.40" lengthAdjust="spacingAndGlyphs" stroke="#2277c8" stroke-width="0.1">9 h</text>
<rect x="35.20" y="287.90" width="10.27" height="86.40" fill="#d2cbcb"/>
<rect x="35.20" y="371.30" width="10.27" height="3.00" fill="#bfb4b5"/>
<rect x="35.20" y="276.00" width="10.27" height="8.60" fill="#2a0508"/>
<text x="40.34" y="281.70" font-family="'Liberation Sans', Arial, sans-serif" font-size="3.9" font-weight="normal" fill="#000" text-anchor="middle" fill-opacity="0.5">SB1</text>
<rect x="45.47" y="287.90" width="1.2" height="86.40" fill="#d4cfcf"/>
<rect x="46.67" y="287.90" width="10.27" height="86.40" fill="#d9cccc"/>
<rect x="46.67" y="371.30" width="10.27" height="3.00" fill="#c9b6b6"/>
<rect x="46.67" y="276.00" width="10.27" height="8.60" fill="#4a0a0c"/>
<text x="51.80" y="281.70" font-family="'Liberation Sans', Arial, sans-serif" font-size="3.9" font-weight="normal" fill="#000" text-anchor="middle" fill-opacity="0.5">SB2</text>
<rect x="56.94" y="287.90" width="1.2" height="86.40" fill="#d8d0d0"/>
<rect x="58.14" y="287.90" width="10.27" height="86.40" fill="#ebcdce"/>
<rect x="58.14" y="371.30" width="10.27" height="3.00" fill="#e2b7ba"/>
<rect x="58.14" y="276.00" width="10.27" height="8.60" fill="#a01018"/>
<text x="63.27" y="281.70" font-family="'Liberation Sans', Arial, sans-serif" font-size="3.9" font-weight="normal" fill="#000" text-anchor="middle" fill-opacity="0.5">SB3</text>
<rect x="68.41" y="287.90" width="1.2" height="86.40" fill="#e2d0d1"/>
<rect x="69.61" y="287.90" width="10.27" height="86.40" fill="#f6cdcf"/>
<rect x="69.61" y="371.30" width="10.27" height="3.00" fill="#f2b7ba"/>
<rect x="69.61" y="276.00" width="10.27" height="8.60" fill="#d2101a"/>
<text x="74.75" y="281.70" font-family="'Liberation Sans', Arial, sans-serif" font-size="3.9" font-weight="normal" fill="#000" text-anchor="middle" fill-opacity="0.5">SB4</text>
<rect x="79.88" y="287.90" width="1.2" height="86.40" fill="#e8d0d1"/>
<rect x="81.08" y="287.90" width="10.27" height="86.40" fill="#ffcfcf"/>
<rect x="81.08" y="371.30" width="10.27" height="3.00" fill="#ffbaba"/>
<rect x="81.08" y="276.00" width="10.27" height="8.60" fill="#ff1a1a"/>
<text x="86.22" y="281.70" font-family="'Liberation Sans', Arial, sans-serif" font-size="3.9" font-weight="normal" fill="#000" text-anchor="middle" fill-opacity="0.5">SB5</text>
<rect x="91.35" y="287.90" width="1.2" height="86.40" fill="#edd1d1"/>
<rect x="92.55" y="287.90" width="10.27" height="86.40" fill="#ffd9d9"/>
<rect x="92.55" y="371.30" width="10.27" height="3.00" fill="#ffc8c8"/>
<rect x="92.55" y="276.00" width="10.27" height="8.60" fill="#ff4848"/>
<text x="97.69" y="281.70" font-family="'Liberation Sans', Arial, sans-serif" font-size="3.9" font-weight="normal" fill="#000" text-anchor="middle" fill-opacity="0.5">SB6</text>
<rect x="102.82" y="287.90" width="1.2" height="86.40" fill="#edd7d7"/>
<rect x="104.02" y="287.90" width="10.27" height="86.40" fill="#ffdddd"/>
<rect x="104.02" y="371.30" width="10.27" height="3.00" fill="#ffcece"/>
<rect x="104.02" y="276.00" width="10.27" height="8.60" fill="#ff5c5c"/>
<text x="109.16" y="281.70" font-family="'Liberation Sans', Arial, sans-serif" font-size="3.9" font-weight="normal" fill="#000" text-anchor="middle" fill-opacity="0.5">SB7</text>
<rect x="114.29" y="287.90" width="1.2" height="86.40" fill="#edd9d9"/>
<rect x="115.49" y="287.90" width="10.27" height="86.40" fill="#ffe6e6"/>
<rect x="115.49" y="371.30" width="10.27" height="3.00" fill="#ffdcdc"/>
<rect x="115.49" y="276.00" width="10.27" height="8.60" fill="#ff8a8a"/>
<text x="120.63" y="281.70" font-family="'Liberation Sans', Arial, sans-serif" font-size="3.9" font-weight="normal" fill="#000" text-anchor="middle" fill-opacity="0.5">SB8</text>
<rect x="125.76" y="287.90" width="1.2" height="86.40" fill="#eddede"/>
<rect x="126.96" y="287.90" width="10.27" height="86.40" fill="#fff3f3"/>
<rect x="126.96" y="371.30" width="10.27" height="3.00" fill="#ffeded"/>
<rect x="126.96" y="276.00" width="10.27" height="8.60" fill="#ffc4c4"/>
<text x="132.09" y="281.70" font-family="'Liberation Sans', Arial, sans-serif" font-size="3.9" font-weight="normal" fill="#000" text-anchor="middle" fill-opacity="0.5">SB9</text>
<rect x="137.23" y="287.90" width="1.2" height="86.40" fill="#fff3f3"/>
<rect x="138.43" y="287.90" width="10.27" height="86.40" fill="#ccccd6"/>
<rect x="138.43" y="371.30" width="10.27" height="3.00" fill="#b6b6c4"/>
<rect x="138.43" y="276.00" width="10.27" height="8.60" fill="#0c0c3a"/>
<text x="143.56" y="281.70" font-family="'Liberation Sans', Arial, sans-serif" font-size="3.9" font-weight="normal" fill="#000" text-anchor="middle" fill-opacity="0.5">SU1</text>
<rect x="148.70" y="287.90" width="1.2" height="86.40" fill="#d0d0d5"/>
<rect x="149.90" y="287.90" width="10.27" height="86.40" fill="#ccccde"/>
<rect x="149.90" y="371.30" width="10.27" height="3.00" fill="#b6b6d0"/>
<rect x="149.90" y="276.00" width="10.27" height="8.60" fill="#0a0a62"/>
<text x="155.03" y="281.70" font-family="'Liberation Sans', Arial, sans-serif" font-size="3.9" font-weight="normal" fill="#000" text-anchor="middle" fill-opacity="0.5">SU2</text>
<rect x="160.17" y="287.90" width="1.2" height="86.40" fill="#d0d0da"/>
<rect x="161.37" y="287.90" width="10.27" height="86.40" fill="#cccceb"/>
<rect x="161.37" y="371.30" width="10.27" height="3.00" fill="#b6b6e2"/>
<rect x="161.37" y="276.00" width="10.27" height="8.60" fill="#0a0aa0"/>
<text x="166.50" y="281.70" font-family="'Liberation Sans', Arial, sans-serif" font-size="3.9" font-weight="normal" fill="#000" text-anchor="middle" fill-opacity="0.5">SU3</text>
<rect x="171.64" y="287.90" width="1.2" height="86.40" fill="#d0d0e1"/>
<rect x="172.84" y="287.90" width="10.27" height="86.40" fill="#ccccf7"/>
<rect x="172.84" y="371.30" width="10.27" height="3.00" fill="#b6b6f3"/>
<rect x="172.84" y="276.00" width="10.27" height="8.60" fill="#0a0ad8"/>
<text x="177.98" y="281.70" font-family="'Liberation Sans', Arial, sans-serif" font-size="3.9" font-weight="normal" fill="#000" text-anchor="middle" fill-opacity="0.5">SU4</text>
<rect x="183.11" y="287.90" width="1.2" height="86.40" fill="#d0d0e7"/>
<rect x="184.31" y="287.90" width="10.27" height="86.40" fill="#cfcfff"/>
<rect x="184.31" y="371.30" width="10.27" height="3.00" fill="#babaff"/>
<rect x="184.31" y="276.00" width="10.27" height="8.60" fill="#1a1aff"/>
<text x="189.44" y="281.70" font-family="'Liberation Sans', Arial, sans-serif" font-size="3.9" font-weight="normal" fill="#000" text-anchor="middle" fill-opacity="0.5">SU5</text>
<rect x="194.58" y="287.90" width="1.2" height="86.40" fill="#d2d1ec"/>
<rect x="195.78" y="287.90" width="10.27" height="86.40" fill="#d9d9ff"/>
<rect x="195.78" y="371.30" width="10.27" height="3.00" fill="#c9c9ff"/>
<rect x="195.78" y="276.00" width="10.27" height="8.60" fill="#4a4aff"/>
<text x="200.92" y="281.70" font-family="'Liberation Sans', Arial, sans-serif" font-size="3.9" font-weight="normal" fill="#000" text-anchor="middle" fill-opacity="0.5">SU6</text>
<rect x="206.05" y="287.90" width="1.2" height="86.40" fill="#d8d7ec"/>
<rect x="207.25" y="287.90" width="10.27" height="86.40" fill="#e3e3ff"/>
<rect x="207.25" y="371.30" width="10.27" height="3.00" fill="#d7d7ff"/>
<rect x="207.25" y="276.00" width="10.27" height="8.60" fill="#7a7aff"/>
<text x="212.38" y="281.70" font-family="'Liberation Sans', Arial, sans-serif" font-size="3.9" font-weight="normal" fill="#000" text-anchor="middle" fill-opacity="0.5">SU7</text>
<rect x="217.52" y="287.90" width="1.2" height="86.40" fill="#dddcec"/>
<rect x="218.72" y="287.90" width="10.27" height="86.40" fill="#e7e7ff"/>
<rect x="218.72" y="371.30" width="10.27" height="3.00" fill="#ddddff"/>
<rect x="218.72" y="276.00" width="10.27" height="8.60" fill="#8e8eff"/>
<text x="223.86" y="281.70" font-family="'Liberation Sans', Arial, sans-serif" font-size="3.9" font-weight="normal" fill="#000" text-anchor="middle" fill-opacity="0.5">SU8</text>
<rect x="228.99" y="287.90" width="1.2" height="86.40" fill="#dfdeec"/>
<rect x="230.19" y="287.90" width="10.27" height="86.40" fill="#f2f2ff"/>
<rect x="230.19" y="371.30" width="10.27" height="3.00" fill="#ededff"/>
<rect x="230.19" y="276.00" width="10.27" height="8.60" fill="#c2c2ff"/>
<text x="235.32" y="281.70" font-family="'Liberation Sans', Arial, sans-serif" font-size="3.9" font-weight="normal" fill="#000" text-anchor="middle" fill-opacity="0.5">SU9</text>
<line x1="31.70" y1="287.40" x2="240.46" y2="287.40" stroke="#c0c0c0" stroke-width="0.9"/>
<line x1="30.70" y1="366.30" x2="240.46" y2="366.30" stroke="#7a7a7a" stroke-width="0.9"/>
<line x1="31.20" y1="372.60" x2="240.46" y2="372.60" stroke="#7a7a7a" stroke-width="0.8"/>
<line x1="32.20" y1="287.40" x2="32.20" y2="372.60" stroke="#9a9a9a" stroke-width="0.7"/>
<line x1="31.00" y1="287.40" x2="32.20" y2="287.40" stroke="#8a8a8a" stroke-width="0.6"/>
<line x1="31.00" y1="289.70" x2="32.20" y2="289.70" stroke="#8a8a8a" stroke-width="0.6"/>
<line x1="31.00" y1="292.00" x2="32.20" y2="292.00" stroke="#8a8a8a" stroke-width="0.6"/>
<line x1="31.00" y1="294.30" x2="32.20" y2="294.30" stroke="#8a8a8a" stroke-width="0.6"/>
<line x1="31.00" y1="296.60" x2="32.20" y2="296.60" stroke="#8a8a8a" stroke-width="0.6"/>
<line x1="31.00" y1="298.90" x2="32.20" y2="298.90" stroke="#8a8a8a" stroke-width="0.6"/>
<line x1="31.00" y1="301.20" x2="32.20" y2="301.20" stroke="#8a8a8a" stroke-width="0.6"/>
<line x1="31.00" y1="303.50" x2="32.20" y2="303.50" stroke="#8a8a8a" stroke-width="0.6"/>
<line x1="31.00" y1="305.80" x2="32.20" y2="305.80" stroke="#8a8a8a" stroke-width="0.6"/>
<line x1="31.00" y1="308.10" x2="32.20" y2="308.10" stroke="#8a8a8a" stroke-width="0.6"/>
<line x1="31.00" y1="310.40" x2="32.20" y2="310.40" stroke="#8a8a8a" stroke-width="0.6"/>
<line x1="31.00" y1="312.70" x2="32.20" y2="312.70" stroke="#8a8a8a" stroke-width="0.6"/>
<line x1="31.00" y1="315.00" x2="32.20" y2="315.00" stroke="#8a8a8a" stroke-width="0.6"/>
<line x1="31.00" y1="317.30" x2="32.20" y2="317.30" stroke="#8a8a8a" stroke-width="0.6"/>
<line x1="31.00" y1="319.60" x2="32.20" y2="319.60" stroke="#8a8a8a" stroke-width="0.6"/>
<line x1="31.00" y1="321.90" x2="32.20" y2="321.90" stroke="#8a8a8a" stroke-width="0.6"/>
<line x1="31.00" y1="324.20" x2="32.20" y2="324.20" stroke="#8a8a8a" stroke-width="0.6"/>
<line x1="31.00" y1="326.50" x2="32.20" y2="326.50" stroke="#8a8a8a" stroke-width="0.6"/>
<line x1="31.00" y1="328.80" x2="32.20" y2="328.80" stroke="#8a8a8a" stroke-width="0.6"/>
<line x1="31.00" y1="331.10" x2="32.20" y2="331.10" stroke="#8a8a8a" stroke-width="0.6"/>
<line x1="31.00" y1="333.40" x2="32.20" y2="333.40" stroke="#8a8a8a" stroke-width="0.6"/>
<line x1="31.00" y1="335.70" x2="32.20" y2="335.70" stroke="#8a8a8a" stroke-width="0.6"/>
<line x1="31.00" y1="338.00" x2="32.20" y2="338.00" stroke="#8a8a8a" stroke-width="0.6"/>
<line x1="31.00" y1="340.30" x2="32.20" y2="340.30" stroke="#8a8a8a" stroke-width="0.6"/>
<line x1="31.00" y1="342.60" x2="32.20" y2="342.60" stroke="#8a8a8a" stroke-width="0.6"/>
<line x1="31.00" y1="344.90" x2="32.20" y2="344.90" stroke="#8a8a8a" stroke-width="0.6"/>
<line x1="31.00" y1="347.20" x2="32.20" y2="347.20" stroke="#8a8a8a" stroke-width="0.6"/>
<line x1="31.00" y1="349.50" x2="32.20" y2="349.50" stroke="#8a8a8a" stroke-width="0.6"/>
<line x1="31.00" y1="351.80" x2="32.20" y2="351.80" stroke="#8a8a8a" stroke-width="0.6"/>
<line x1="31.00" y1="354.10" x2="32.20" y2="354.10" stroke="#8a8a8a" stroke-width="0.6"/>
<line x1="31.00" y1="356.40" x2="32.20" y2="356.40" stroke="#8a8a8a" stroke-width="0.6"/>
<line x1="31.00" y1="358.70" x2="32.20" y2="358.70" stroke="#8a8a8a" stroke-width="0.6"/>
<line x1="31.00" y1="361.00" x2="32.20" y2="361.00" stroke="#8a8a8a" stroke-width="0.6"/>
<line x1="31.00" y1="363.30" x2="32.20" y2="363.30" stroke="#8a8a8a" stroke-width="0.6"/>
<line x1="31.00" y1="365.60" x2="32.20" y2="365.60" stroke="#8a8a8a" stroke-width="0.6"/>
<line x1="31.00" y1="367.90" x2="32.20" y2="367.90" stroke="#8a8a8a" stroke-width="0.6"/>
<line x1="31.00" y1="370.20" x2="32.20" y2="370.20" stroke="#8a8a8a" stroke-width="0.6"/>
<line x1="31.00" y1="372.50" x2="32.20" y2="372.50" stroke="#8a8a8a" stroke-width="0.6"/>
<text x="29.60" y="291.75" font-family="'Liberation Sans', Arial, sans-serif" font-size="4.3" font-weight="normal" fill="#555" text-anchor="end">250</text>
<text x="29.60" y="304.55" font-family="'Liberation Sans', Arial, sans-serif" font-size="4.3" font-weight="normal" fill="#555" text-anchor="end">200</text>
<text x="29.60" y="320.05" font-family="'Liberation Sans', Arial, sans-serif" font-size="4.3" font-weight="normal" fill="#555" text-anchor="end">150</text>
<text x="29.60" y="335.85" font-family="'Liberation Sans', Arial, sans-serif" font-size="4.3" font-weight="normal" fill="#555" text-anchor="end">100</text>
<text x="29.60" y="351.35" font-family="'Liberation Sans', Arial, sans-serif" font-size="4.3" font-weight="normal" fill="#555" text-anchor="end">50</text>
<text x="29.60" y="367.55" font-family="'Liberation Sans', Arial, sans-serif" font-size="4.3" font-weight="normal" fill="#555" text-anchor="end">0</text>
<text transform="translate(17.10,368.40) rotate(-90)" x="0" y="0" font-family="'Liberation Sans', Arial, sans-serif" font-size="8.4" fill="#2a2a2a" stroke="#2a2a2a" stroke-width="0.22" textLength="92.30" lengthAdjust="spacingAndGlyphs">Normalised abondance (10<tspan dy="-3.19" font-size="5.21">3</tspan><tspan dy="3.19">)</tspan></text>
<polyline points="37.30,364.00 43.50,364.00 49.30,362.70 54.70,363.50 60.80,362.70 66.10,363.00 71.50,344.00 77.30,346.00 83.20,344.00 89.30,348.50 94.70,344.00 100.70,331.20 106.50,349.30 112.10,338.10 118.00,342.70 123.30,340.80 129.20,345.90 134.80,348.00 140.70,345.30 146.00,343.50 151.90,348.50 158.00,353.30 163.30,351.50 169.20,352.50 174.80,344.50 180.70,346.10 186.50,335.00 192.10,340.50 198.00,324.00 203.30,332.00 209.20,326.70 214.80,331.50 220.70,317.90 226.50,323.20 232.10,306.70 238.00,315.50 241.20,329.30" fill="none" stroke="#9c9c9c" stroke-width="0.55"/>
<circle cx="37.30" cy="364.00" r="0.85" fill="#9a9a9a" stroke="none"/>
<circle cx="43.50" cy="364.00" r="0.85" fill="#9a9a9a" stroke="none"/>
<circle cx="49.30" cy="362.70" r="0.85" fill="#9a9a9a" stroke="none"/>
<circle cx="54.70" cy="363.50" r="0.85" fill="#9a9a9a" stroke="none"/>
<circle cx="60.80" cy="362.70" r="0.85" fill="#9a9a9a" stroke="none"/>
<circle cx="66.10" cy="363.00" r="0.85" fill="#9a9a9a" stroke="none"/>
<circle cx="71.50" cy="344.00" r="0.85" fill="#9a9a9a" stroke="none"/>
<circle cx="77.30" cy="346.00" r="0.85" fill="#9a9a9a" stroke="none"/>
<circle cx="83.20" cy="344.00" r="0.85" fill="#9a9a9a" stroke="none"/>
<circle cx="89.30" cy="348.50" r="0.85" fill="#9a9a9a" stroke="none"/>
<circle cx="94.70" cy="344.00" r="0.85" fill="#9a9a9a" stroke="none"/>
<circle cx="100.70" cy="331.20" r="0.85" fill="#9a9a9a" stroke="none"/>
<circle cx="106.50" cy="349.30" r="0.85" fill="#9a9a9a" stroke="none"/>
<circle cx="112.10" cy="338.10" r="0.85" fill="#9a9a9a" stroke="none"/>
<circle cx="118.00" cy="342.70" r="0.85" fill="#9a9a9a" stroke="none"/>
<circle cx="123.30" cy="340.80" r="0.85" fill="#9a9a9a" stroke="none"/>
<circle cx="129.20" cy="345.90" r="0.85" fill="#9a9a9a" stroke="none"/>
<circle cx="134.80" cy="348.00" r="0.85" fill="#9a9a9a" stroke="none"/>
<circle cx="140.70" cy="345.30" r="0.85" fill="#9a9a9a" stroke="none"/>
<circle cx="146.00" cy="343.50" r="0.85" fill="#9a9a9a" stroke="none"/>
<circle cx="151.90" cy="348.50" r="0.85" fill="#9a9a9a" stroke="none"/>
<circle cx="158.00" cy="353.30" r="0.85" fill="#9a9a9a" stroke="none"/>
<circle cx="163.30" cy="351.50" r="0.85" fill="#9a9a9a" stroke="none"/>
<circle cx="169.20" cy="352.50" r="0.85" fill="#9a9a9a" stroke="none"/>
<circle cx="174.80" cy="344.50" r="0.85" fill="#9a9a9a" stroke="none"/>
<circle cx="180.70" cy="346.10" r="0.85" fill="#9a9a9a" stroke="none"/>
<circle cx="186.50" cy="335.00" r="0.85" fill="#9a9a9a" stroke="none"/>
<circle cx="192.10" cy="340.50" r="0.85" fill="#9a9a9a" stroke="none"/>
<circle cx="198.00" cy="324.00" r="0.85" fill="#9a9a9a" stroke="none"/>
<circle cx="203.30" cy="332.00" r="0.85" fill="#9a9a9a" stroke="none"/>
<circle cx="209.20" cy="326.70" r="0.85" fill="#9a9a9a" stroke="none"/>
<circle cx="214.80" cy="331.50" r="0.85" fill="#9a9a9a" stroke="none"/>
<circle cx="220.70" cy="317.90" r="0.85" fill="#9a9a9a" stroke="none"/>
<circle cx="226.50" cy="323.20" r="0.85" fill="#9a9a9a" stroke="none"/>
<circle cx="232.10" cy="306.70" r="0.85" fill="#9a9a9a" stroke="none"/>
<circle cx="238.00" cy="315.50" r="0.85" fill="#9a9a9a" stroke="none"/>
<text x="325.00" y="214.80" font-family="'Liberation Sans', Arial, sans-serif" font-size="8.2" font-weight="bold" fill="#111" text-anchor="start" textLength="82.10" lengthAdjust="spacingAndGlyphs" stroke="#111" stroke-width="0.3">4- YPFPGPIPNSLPQN -</text>
<text x="409.60" y="214.80" font-family="'Liberation Sans', Arial, sans-serif" font-size="8.2" font-weight="bold" fill="#111" text-anchor="start" textLength="35.00" lengthAdjust="spacingAndGlyphs" stroke="#111" stroke-width="0.3">β casein -</text>
<text x="453.00" y="214.80" font-family="'Liberation Sans', Arial, sans-serif" font-size="8.2" font-weight="bold" fill="#111" text-anchor="start" textLength="39.00" lengthAdjust="spacingAndGlyphs" stroke="#111" stroke-width="0.3">HM: 125-7</text>
<text x="501.30" y="214.80" font-family="'Liberation Sans', Arial, sans-serif" font-size="8.2" font-weight="bold" fill="#111" text-anchor="start" textLength="36.30" lengthAdjust="spacingAndGlyphs" stroke="#111" stroke-width="0.3">LM: 109-1</text>
<text x="340.90" y="248.60" font-family="'Liberation Sans', Arial, sans-serif" font-size="8.6" font-weight="bold" fill="#ff121c" text-anchor="start" textLength="49.60" lengthAdjust="spacingAndGlyphs" stroke="#ff121c" stroke-width="0.3">Kinetics 109</text>
<text x="442.60" y="248.60" font-family="'Liberation Sans', Arial, sans-serif" font-size="8.6" font-weight="bold" fill="#2277c8" text-anchor="start" textLength="49.30" lengthAdjust="spacingAndGlyphs" stroke="#2277c8" stroke-width="0.3">Kinetics 125</text>
<line x1="323.60" y1="257.40" x2="410.80" y2="257.40" stroke="#ff1e26" stroke-width="1.8"/><polygon points="410.30,254.10 416.30,257.40 410.30,260.70" fill="#ff1e26"/>
<line x1="426.00" y1="257.90" x2="512.60" y2="257.90" stroke="#2a7cc6" stroke-width="1.5"/><polygon points="512.10,254.60 518.10,257.90 512.10,261.20" fill="#2a7cc6"/>
<text x="321.90" y="273.10" font-family="'Liberation Sans', Arial, sans-serif" font-size="9.9" font-weight="normal" fill="#ff121c" text-anchor="start" textLength="20.40" lengthAdjust="spacingAndGlyphs" stroke="#ff121c" stroke-width="0.2">T 1 h</text>
<text x="369.40" y="273.10" font-family="'Liberation Sans', Arial, sans-serif" font-size="9.9" font-weight="normal" fill="#ff121c" text-anchor="middle" stroke="#ff121c" stroke-width="0.2">à</text>
<text x="405.80" y="273.10" font-family="'Liberation Sans', Arial, sans-serif" font-size="9.9" font-weight="normal" fill="#ff121c" text-anchor="start" textLength="13.20" lengthAdjust="spacingAndGlyphs" stroke="#ff121c" stroke-width="0.2">9 h</text>
<text x="429.00" y="273.10" font-family="'Liberation Sans', Arial, sans-serif" font-size="9.9" font-weight="normal" fill="#2277c8" text-anchor="start" textLength="20.40" lengthAdjust="spacingAndGlyphs" stroke="#2277c8" stroke-width="0.1">T 1 h</text>
<text x="476.20" y="273.10" font-family="'Liberation Sans', Arial, sans-serif" font-size="9.9" font-weight="normal" fill="#2277c8" text-anchor="middle" stroke="#2277c8" stroke-width="0.1">à</text>
<text x="513.00" y="273.10" font-family="'Liberation Sans', Arial, sans-serif" font-size="9.9" font-weight="normal" fill="#2277c8" text-anchor="start" textLength="12.90" lengthAdjust="spacingAndGlyphs" stroke="#2277c8" stroke-width="0.1">9 h</text>
<line x1="418" y1="275.2" x2="498.7" y2="275.2" stroke="#c4c4c4" stroke-width="0.8"/>
<rect x="325.30" y="288.80" width="10.17" height="86.20" fill="#d2cbcb"/>
<rect x="325.30" y="372.00" width="10.17" height="3.00" fill="#bfb4b5"/>
<rect x="325.30" y="277.10" width="10.17" height="8.50" fill="#2a0508"/>
<text x="330.38" y="282.75" font-family="'Liberation Sans', Arial, sans-serif" font-size="3.9" font-weight="normal" fill="#000" text-anchor="middle" fill-opacity="0.5">SB1</text>
<rect x="335.47" y="288.80" width="1.2" height="86.20" fill="#d4cfcf"/>
<rect x="336.67" y="288.80" width="10.17" height="86.20" fill="#d9cccc"/>
<rect x="336.67" y="372.00" width="10.17" height="3.00" fill="#c9b6b6"/>
<rect x="336.67" y="277.10" width="10.17" height="8.50" fill="#4a0a0c"/>
<text x="341.75" y="282.75" font-family="'Liberation Sans', Arial, sans-serif" font-size="3.9" font-weight="normal" fill="#000" text-anchor="middle" fill-opacity="0.5">SB2</text>
<rect x="346.84" y="288.80" width="1.2" height="86.20" fill="#d8d0d0"/>
<rect x="348.04" y="288.80" width="10.17" height="86.20" fill="#ebcdce"/>
<rect x="348.04" y="372.00" width="10.17" height="3.00" fill="#e2b7ba"/>
<rect x="348.04" y="277.10" width="10.17" height="8.50" fill="#a01018"/>
<text x="353.12" y="282.75" font-family="'Liberation Sans', Arial, sans-serif" font-size="3.9" font-weight="normal" fill="#000" text-anchor="middle" fill-opacity="0.5">SB3</text>
<rect x="358.21" y="288.80" width="1.2" height="86.20" fill="#e2d0d1"/>
<rect x="359.41" y="288.80" width="10.17" height="86.20" fill="#f6cdcf"/>
<rect x="359.41" y="372.00" width="10.17" height="3.00" fill="#f2b7ba"/>
<rect x="359.41" y="277.10" width="10.17" height="8.50" fill="#d2101a"/>
<text x="364.50" y="282.75" font-family="'Liberation Sans', Arial, sans-serif" font-size="3.9" font-weight="normal" fill="#000" text-anchor="middle" fill-opacity="0.5">SB4</text>
<rect x="369.58" y="288.80" width="1.2" height="86.20" fill="#e8d0d1"/>
<rect x="370.78" y="288.80" width="10.17" height="86.20" fill="#ffcfcf"/>
<rect x="370.78" y="372.00" width="10.17" height="3.00" fill="#ffbaba"/>
<rect x="370.78" y="277.10" width="10.17" height="8.50" fill="#ff1a1a"/>
<text x="375.87" y="282.75" font-family="'Liberation Sans', Arial, sans-serif" font-size="3.9" font-weight="normal" fill="#000" text-anchor="middle" fill-opacity="0.5">SB5</text>
<rect x="380.95" y="288.80" width="1.2" height="86.20" fill="#edd1d1"/>
<rect x="382.15" y="288.80" width="10.17" height="86.20" fill="#ffd9d9"/>
<rect x="382.15" y="372.00" width="10.17" height="3.00" fill="#ffc8c8"/>
<rect x="382.15" y="277.10" width="10.17" height="8.50" fill="#ff4848"/>
<text x="387.23" y="282.75" font-family="'Liberation Sans', Arial, sans-serif" font-size="3.9" font-weight="normal" fill="#000" text-anchor="middle" fill-opacity="0.5">SB6</text>
<rect x="392.32" y="288.80" width="1.2" height="86.20" fill="#edd7d7"/>
<rect x="393.52" y="288.80" width="10.17" height="86.20" fill="#ffdddd"/>
<rect x="393.52" y="372.00" width="10.17" height="3.00" fill="#ffcece"/>
<rect x="393.52" y="277.10" width="10.17" height="8.50" fill="#ff5c5c"/>
<text x="398.60" y="282.75" font-family="'Liberation Sans', Arial, sans-serif" font-size="3.9" font-weight="normal" fill="#000" text-anchor="middle" fill-opacity="0.5">SB7</text>
<rect x="403.69" y="288.80" width="1.2" height="86.20" fill="#edd9d9"/>
<rect x="404.89" y="288.80" width="10.17" height="86.20" fill="#ffe6e6"/>
<rect x="404.89" y="372.00" width="10.17" height="3.00" fill="#ffdcdc"/>
<rect x="404.89" y="277.10" width="10.17" height="8.50" fill="#ff8a8a"/>
<text x="409.97" y="282.75" font-family="'Liberation Sans', Arial, sans-serif" font-size="3.9" font-weight="normal" fill="#000" text-anchor="middle" fill-opacity="0.5">SB8</text>
<rect x="415.06" y="288.80" width="1.2" height="86.20" fill="#eddede"/>
<rect x="416.26" y="288.80" width="10.17" height="86.20" fill="#fff3f3"/>
<rect x="416.26" y="372.00" width="10.17" height="3.00" fill="#ffeded"/>
<rect x="416.26" y="277.10" width="10.17" height="8.50" fill="#ffc4c4"/>
<text x="421.34" y="282.75" font-family="'Liberation Sans', Arial, sans-serif" font-size="3.9" font-weight="normal" fill="#000" text-anchor="middle" fill-opacity="0.5">SB9</text>
<rect x="426.43" y="288.80" width="1.2" height="86.20" fill="#fff3f3"/>
<rect x="427.63" y="288.80" width="10.17" height="86.20" fill="#ccccd6"/>
<rect x="427.63" y="372.00" width="10.17" height="3.00" fill="#b6b6c4"/>
<rect x="427.63" y="277.10" width="10.17" height="8.50" fill="#0c0c3a"/>
<text x="432.71" y="282.75" font-family="'Liberation Sans', Arial, sans-serif" font-size="3.9" font-weight="normal" fill="#000" text-anchor="middle" fill-opacity="0.5">SU1</text>
<rect x="437.80" y="288.80" width="1.2" height="86.20" fill="#d0d0d5"/>
<rect x="439.00" y="288.80" width="10.17" height="86.20" fill="#ccccde"/>
<rect x="439.00" y="372.00" width="10.17" height="3.00" fill="#b6b6d0"/>
<rect x="439.00" y="277.10" width="10.17" height="8.50" fill="#0a0a62"/>
<text x="444.08" y="282.75" font-family="'Liberation Sans', Arial, sans-serif" font-size="3.9" font-weight="normal" fill="#000" text-anchor="middle" fill-opacity="0.5">SU2</text>
<rect x="449.17" y="288.80" width="1.2" height="86.20" fill="#d0d0da"/>
<rect x="450.37" y="288.80" width="10.17" height="86.20" fill="#cccceb"/>
<rect x="450.37" y="372.00" width="10.17" height="3.00" fill="#b6b6e2"/>
<rect x="450.37" y="277.10" width="10.17" height="8.50" fill="#0a0aa0"/>
<text x="455.45" y="282.75" font-family="'Liberation Sans', Arial, sans-serif" font-size="3.9" font-weight="normal" fill="#000" text-anchor="middle" fill-opacity="0.5">SU3</text>
<rect x="460.54" y="288.80" width="1.2" height="86.20" fill="#d0d0e1"/>
<rect x="461.74" y="288.80" width="10.17" height="86.20" fill="#ccccf7"/>
<rect x="461.74" y="372.00" width="10.17" height="3.00" fill="#b6b6f3"/>
<rect x="461.74" y="277.10" width="10.17" height="8.50" fill="#0a0ad8"/>
<text x="466.82" y="282.75" font-family="'Liberation Sans', Arial, sans-serif" font-size="3.9" font-weight="normal" fill="#000" text-anchor="middle" fill-opacity="0.5">SU4</text>
<rect x="471.91" y="288.80" width="1.2" height="86.20" fill="#d0d0e7"/>
<rect x="473.11" y="288.80" width="10.17" height="86.20" fill="#cfcfff"/>
<rect x="473.11" y="372.00" width="10.17" height="3.00" fill="#babaff"/>
<rect x="473.11" y="277.10" width="10.17" height="8.50" fill="#1a1aff"/>
<text x="478.19" y="282.75" font-family="'Liberation Sans', Arial, sans-serif" font-size="3.9" font-weight="normal" fill="#000" text-anchor="middle" fill-opacity="0.5">SU5</text>
<rect x="483.28" y="288.80" width="1.2" height="86.20" fill="#d2d1ec"/>
<rect x="484.48" y="288.80" width="10.17" height="86.20" fill="#d9d9ff"/>
<rect x="484.48" y="372.00" width="10.17" height="3.00" fill="#c9c9ff"/>
<rect x="484.48" y="277.10" width="10.17" height="8.50" fill="#4a4aff"/>
<text x="489.56" y="282.75" font-family="'Liberation Sans', Arial, sans-serif" font-size="3.9" font-weight="normal" fill="#000" text-anchor="middle" fill-opacity="0.5">SU6</text>
<rect x="494.65" y="288.80" width="1.2" height="86.20" fill="#d8d7ec"/>
<rect x="495.85" y="288.80" width="10.17" height="86.20" fill="#e3e3ff"/>
<rect x="495.85" y="372.00" width="10.17" height="3.00" fill="#d7d7ff"/>
<rect x="495.85" y="277.10" width="10.17" height="8.50" fill="#7a7aff"/>
<text x="500.94" y="282.75" font-family="'Liberation Sans', Arial, sans-serif" font-size="3.9" font-weight="normal" fill="#000" text-anchor="middle" fill-opacity="0.5">SU7</text>
<rect x="506.02" y="288.80" width="1.2" height="86.20" fill="#dddcec"/>
<rect x="507.22" y="288.80" width="10.17" height="86.20" fill="#e7e7ff"/>
<rect x="507.22" y="372.00" width="10.17" height="3.00" fill="#ddddff"/>
<rect x="507.22" y="277.10" width="10.17" height="8.50" fill="#8e8eff"/>
<text x="512.31" y="282.75" font-family="'Liberation Sans', Arial, sans-serif" font-size="3.9" font-weight="normal" fill="#000" text-anchor="middle" fill-opacity="0.5">SU8</text>
<rect x="517.39" y="288.80" width="1.2" height="86.20" fill="#dfdeec"/>
<rect x="518.59" y="288.80" width="10.17" height="86.20" fill="#f2f2ff"/>
<rect x="518.59" y="372.00" width="10.17" height="3.00" fill="#ededff"/>
<rect x="518.59" y="277.10" width="10.17" height="8.50" fill="#c2c2ff"/>
<text x="523.68" y="282.75" font-family="'Liberation Sans', Arial, sans-serif" font-size="3.9" font-weight="normal" fill="#000" text-anchor="middle" fill-opacity="0.5">SU9</text>
<line x1="322.20" y1="288.30" x2="528.76" y2="288.30" stroke="#888888" stroke-width="0.9"/>
<line x1="321.20" y1="368.40" x2="528.76" y2="368.40" stroke="#666666" stroke-width="0.9"/>
<line x1="321.70" y1="373.30" x2="528.76" y2="373.30" stroke="#5e5e5e" stroke-width="0.8"/>
<line x1="322.70" y1="288.30" x2="322.70" y2="373.30" stroke="#9a9a9a" stroke-width="0.7"/>
<line x1="321.50" y1="288.30" x2="322.70" y2="288.30" stroke="#8a8a8a" stroke-width="0.6"/>
<line x1="321.50" y1="290.60" x2="322.70" y2="290.60" stroke="#8a8a8a" stroke-width="0.6"/>
<line x1="321.50" y1="292.90" x2="322.70" y2="292.90" stroke="#8a8a8a" stroke-width="0.6"/>
<line x1="321.50" y1="295.20" x2="322.70" y2="295.20" stroke="#8a8a8a" stroke-width="0.6"/>
<line x1="321.50" y1="297.50" x2="322.70" y2="297.50" stroke="#8a8a8a" stroke-width="0.6"/>
<line x1="321.50" y1="299.80" x2="322.70" y2="299.80" stroke="#8a8a8a" stroke-width="0.6"/>
<line x1="321.50" y1="302.10" x2="322.70" y2="302.10" stroke="#8a8a8a" stroke-width="0.6"/>
<line x1="321.50" y1="304.40" x2="322.70" y2="304.40" stroke="#8a8a8a" stroke-width="0.6"/>
<line x1="321.50" y1="306.70" x2="322.70" y2="306.70" stroke="#8a8a8a" stroke-width="0.6"/>
<line x1="321.50" y1="309.00" x2="322.70" y2="309.00" stroke="#8a8a8a" stroke-width="0.6"/>
<line x1="321.50" y1="311.30" x2="322.70" y2="311.30" stroke="#8a8a8a" stroke-width="0.6"/>
<line x1="321.50" y1="313.60" x2="322.70" y2="313.60" stroke="#8a8a8a" stroke-width="0.6"/>
<line x1="321.50" y1="315.90" x2="322.70" y2="315.90" stroke="#8a8a8a" stroke-width="0.6"/>
<line x1="321.50" y1="318.20" x2="322.70" y2="318.20" stroke="#8a8a8a" stroke-width="0.6"/>
<line x1="321.50" y1="320.50" x2="322.70" y2="320.50" stroke="#8a8a8a" stroke-width="0.6"/>
<line x1="321.50" y1="322.80" x2="322.70" y2="322.80" stroke="#8a8a8a" stroke-width="0.6"/>
<line x1="321.50" y1="325.10" x2="322.70" y2="325.10" stroke="#8a8a8a" stroke-width="0.6"/>
<line x1="321.50" y1="327.40" x2="322.70" y2="327.40" stroke="#8a8a8a" stroke-width="0.6"/>
<line x1="321.50" y1="329.70" x2="322.70" y2="329.70" stroke="#8a8a8a" stroke-width="0.6"/>
<line x1="321.50" y1="332.00" x2="322.70" y2="332.00" stroke="#8a8a8a" stroke-width="0.6"/>
<line x1="321.50" y1="334.30" x2="322.70" y2="334.30" stroke="#8a8a8a" stroke-width="0.6"/>
<line x1="321.50" y1="336.60" x2="322.70" y2="336.60" stroke="#8a8a8a" stroke-width="0.6"/>
<line x1="321.50" y1="338.90" x2="322.70" y2="338.90" stroke="#8a8a8a" stroke-width="0.6"/>
<line x1="321.50" y1="341.20" x2="322.70" y2="341.20" stroke="#8a8a8a" stroke-width="0.6"/>
<line x1="321.50" y1="343.50" x2="322.70" y2="343.50" stroke="#8a8a8a" stroke-width="0.6"/>
<line x1="321.50" y1="345.80" x2="322.70" y2="345.80" stroke="#8a8a8a" stroke-width="0.6"/>
<line x1="321.50" y1="348.10" x2="322.70" y2="348.10" stroke="#8a8a8a" stroke-width="0.6"/>
<line x1="321.50" y1="350.40" x2="322.70" y2="350.40" stroke="#8a8a8a" stroke-width="0.6"/>
<line x1="321.50" y1="352.70" x2="322.70" y2="352.70" stroke="#8a8a8a" stroke-width="0.6"/>
<line x1="321.50" y1="355.00" x2="322.70" y2="355.00" stroke="#8a8a8a" stroke-width="0.6"/>
<line x1="321.50" y1="357.30" x2="322.70" y2="357.30" stroke="#8a8a8a" stroke-width="0.6"/>
<line x1="321.50" y1="359.60" x2="322.70" y2="359.60" stroke="#8a8a8a" stroke-width="0.6"/>
<line x1="321.50" y1="361.90" x2="322.70" y2="361.90" stroke="#8a8a8a" stroke-width="0.6"/>
<line x1="321.50" y1="364.20" x2="322.70" y2="364.20" stroke="#8a8a8a" stroke-width="0.6"/>
<line x1="321.50" y1="366.50" x2="322.70" y2="366.50" stroke="#8a8a8a" stroke-width="0.6"/>
<line x1="321.50" y1="368.80" x2="322.70" y2="368.80" stroke="#8a8a8a" stroke-width="0.6"/>
<line x1="321.50" y1="371.10" x2="322.70" y2="371.10" stroke="#8a8a8a" stroke-width="0.6"/>
<text x="319.60" y="289.84" font-family="'Liberation Sans', Arial, sans-serif" font-size="4.0" font-weight="normal" fill="#555" text-anchor="end">350</text>
<text x="319.60" y="301.54" font-family="'Liberation Sans', Arial, sans-serif" font-size="4.0" font-weight="normal" fill="#555" text-anchor="end">300</text>
<text x="319.60" y="312.64" font-family="'Liberation Sans', Arial, sans-serif" font-size="4.0" font-weight="normal" fill="#555" text-anchor="end">250</text>
<text x="319.60" y="324.34" font-family="'Liberation Sans', Arial, sans-serif" font-size="4.0" font-weight="normal" fill="#555" text-anchor="end">200</text>
<text x="319.60" y="335.34" font-family="'Liberation Sans', Arial, sans-serif" font-size="4.0" font-weight="normal" fill="#555" text-anchor="end">150</text>
<text x="319.60" y="346.94" font-family="'Liberation Sans', Arial, sans-serif" font-size="4.0" font-weight="normal" fill="#555" text-anchor="end">100</text>
<text x="319.60" y="357.84" font-family="'Liberation Sans', Arial, sans-serif" font-size="4.0" font-weight="normal" fill="#555" text-anchor="end">50</text>
<text transform="translate(307.90,367.30) rotate(-90)" x="0" y="0" font-family="'Liberation Sans', Arial, sans-serif" font-size="8.4" fill="#2a2a2a" stroke="#2a2a2a" stroke-width="0.22" textLength="93.40" lengthAdjust="spacingAndGlyphs">Normalised abondance (10<tspan dy="-3.19" font-size="5.21">3</tspan><tspan dy="3.19">)</tspan></text>
<polyline points="327.50,359.20 333.30,363.20 339.20,360.00 344.80,358.10 350.70,356.80 356.00,353.90 361.90,345.30 367.50,347.20 373.20,340.80 378.80,346.70 384.70,336.80 390.00,340.80 395.90,329.30 401.50,336.80 407.30,337.60 412.70,336.80 418.50,322.70 424.10,328.80 430.00,334.70 435.30,347.20 441.20,327.50 447.30,357.90 452.70,348.00 458.00,348.80 463.90,324.50 469.50,325.90 475.30,321.90 481.20,314.70 486.80,310.10 492.10,313.30 498.00,298.10 503.90,295.50 509.20,298.10 515.30,300.50 520.70,296.00 526.50,298.10 529.20,312.00" fill="none" stroke="#9c9c9c" stroke-width="0.55"/>
<circle cx="327.50" cy="359.20" r="0.85" fill="#9a9a9a" stroke="none"/>
<circle cx="333.30" cy="363.20" r="0.85" fill="#9a9a9a" stroke="none"/>
<circle cx="339.20" cy="360.00" r="0.85" fill="#9a9a9a" stroke="none"/>
<circle cx="344.80" cy="358.10" r="0.85" fill="#9a9a9a" stroke="none"/>
<circle cx="350.70" cy="356.80" r="0.85" fill="#9a9a9a" stroke="none"/>
<circle cx="356.00" cy="353.90" r="0.85" fill="#9a9a9a" stroke="none"/>
<circle cx="361.90" cy="345.30" r="0.85" fill="#9a9a9a" stroke="none"/>
<circle cx="367.50" cy="347.20" r="0.85" fill="#9a9a9a" stroke="none"/>
<circle cx="373.20" cy="340.80" r="0.85" fill="#9a9a9a" stroke="none"/>
<circle cx="378.80" cy="346.70" r="0.85" fill="#9a9a9a" stroke="none"/>
<circle cx="384.70" cy="336.80" r="0.85" fill="#9a9a9a" stroke="none"/>
<circle cx="390.00" cy="340.80" r="0.85" fill="#9a9a9a" stroke="none"/>
<circle cx="395.90" cy="329.30" r="0.85" fill="#9a9a9a" stroke="none"/>
<circle cx="401.50" cy="336.80" r="0.85" fill="#9a9a9a" stroke="none"/>
<circle cx="407.30" cy="337.60" r="0.85" fill="#9a9a9a" stroke="none"/>
<circle cx="412.70" cy="336.80" r="0.85" fill="#9a9a9a" stroke="none"/>
<circle cx="418.50" cy="322.70" r="0.85" fill="#9a9a9a" stroke="none"/>
<circle cx="424.10" cy="328.80" r="0.85" fill="#9a9a9a" stroke="none"/>
<circle cx="430.00" cy="334.70" r="0.85" fill="#9a9a9a" stroke="none"/>
<circle cx="435.30" cy="347.20" r="0.85" fill="#9a9a9a" stroke="none"/>
<circle cx="441.20" cy="327.50" r="0.85" fill="#9a9a9a" stroke="none"/>
<circle cx="447.30" cy="357.90" r="0.85" fill="#9a9a9a" stroke="none"/>
<circle cx="452.70" cy="348.00" r="0.85" fill="#9a9a9a" stroke="none"/>
<circle cx="458.00" cy="348.80" r="0.85" fill="#9a9a9a" stroke="none"/>
<circle cx="463.90" cy="324.50" r="0.85" fill="#9a9a9a" stroke="none"/>
<circle cx="469.50" cy="325.90" r="0.85" fill="#9a9a9a" stroke="none"/>
<circle cx="475.30" cy="321.90" r="0.85" fill="#9a9a9a" stroke="none"/>
<circle cx="481.20" cy="314.70" r="0.85" fill="#9a9a9a" stroke="none"/>
<circle cx="486.80" cy="310.10" r="0.85" fill="#9a9a9a" stroke="none"/>
<circle cx="492.10" cy="313.30" r="0.85" fill="#9a9a9a" stroke="none"/>
<circle cx="498.00" cy="298.10" r="0.85" fill="#9a9a9a" stroke="none"/>
<circle cx="503.90" cy="295.50" r="0.85" fill="#9a9a9a" stroke="none"/>
<circle cx="509.20" cy="298.10" r="0.85" fill="#9a9a9a" stroke="none"/>
<circle cx="515.30" cy="300.50" r="0.85" fill="#9a9a9a" stroke="none"/>
<circle cx="520.70" cy="296.00" r="0.85" fill="#9a9a9a" stroke="none"/>
<circle cx="526.50" cy="298.10" r="0.85" fill="#9a9a9a" stroke="none"/>
<rect x="8.5" y="13.5" width="22" height="19" fill="none" stroke="#4a4a4a" stroke-width="1"/>
<text x="18.90" y="27.80" font-family="'Liberation Serif', 'Times New Roman', serif" font-size="11.4" font-weight="bold" fill="#333" text-anchor="middle">a</text>
<rect x="4.5" y="204.5" width="21" height="19" fill="none" stroke="#444" stroke-width="1"/>
<text x="14.70" y="218.60" font-family="'Liberation Sans', Arial, sans-serif" font-size="10.0" font-weight="normal" fill="#2a2a2a" text-anchor="middle" stroke="#2a2a2a" stroke-width="0.2">b</text>
</svg></body></html>
